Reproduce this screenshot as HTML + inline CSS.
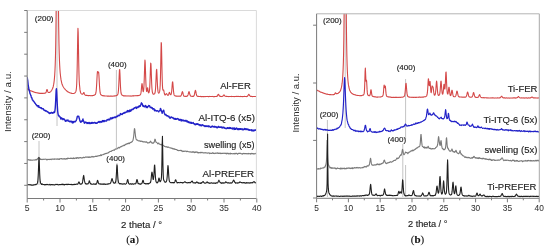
<!DOCTYPE html>
<html><head><meta charset="utf-8"><title>XRD patterns</title>
<style>html,body{margin:0;padding:0;background:#fff;}body{width:550px;height:250px;overflow:hidden;}svg{display:block;}</style>
</head><body>
<svg width="550" height="250" viewBox="0 0 550 250">
<rect width="550" height="250" fill="#fff"/>
<clipPath id="ca"><rect x="27.20" y="10.50" width="229.20" height="188.00"/></clipPath>
<line x1="57.00" y1="10.50" x2="57.00" y2="126.00" stroke="#c4c4c4" stroke-width="1"/>
<line x1="116.40" y1="70.00" x2="116.40" y2="148.00" stroke="#c4c4c4" stroke-width="1"/>
<line x1="39.00" y1="141.00" x2="39.00" y2="185.00" stroke="#c4c4c4" stroke-width="1"/>
<line x1="117.00" y1="163.00" x2="117.00" y2="184.00" stroke="#c4c4c4" stroke-width="1"/>
<g clip-path="url(#ca)">
<polyline fill="none" stroke="#7a7a7a" stroke-width="1.1" stroke-linejoin="round"  points="27.20,160.04 27.45,159.85 27.70,159.90 27.95,160.06 28.20,159.87 28.45,159.68 28.70,159.60 28.95,159.87 29.20,159.90 29.45,159.85 29.70,160.17 29.95,160.32 30.20,160.40 30.45,160.19 30.70,159.78 30.95,159.98 31.20,160.20 31.45,160.21 31.70,160.17 31.95,160.18 32.20,160.29 32.45,160.21 32.70,160.14 32.95,160.08 33.20,160.02 33.45,159.98 33.70,160.08 33.95,159.95 34.20,160.05 34.45,160.10 34.70,159.97 34.95,159.95 35.20,159.74 35.45,160.06 35.70,160.02 35.95,159.48 36.20,159.38 36.45,159.47 36.70,159.84 36.95,159.79 37.20,159.40 37.45,158.93 37.70,158.47 37.95,158.30 38.20,158.12 38.45,157.63 38.70,157.40 38.95,157.75 39.20,157.84 39.45,158.18 39.70,158.64 39.95,158.54 40.20,158.85 40.45,159.40 40.70,159.29 40.95,159.01 41.20,159.31 41.45,159.56 41.70,159.47 41.95,159.64 42.20,159.40 42.45,159.31 42.70,159.36 42.95,159.23 43.20,159.25 43.45,159.26 43.70,159.45 43.95,159.47 44.20,159.28 44.45,159.22 44.70,159.30 44.95,159.20 45.20,159.07 45.45,159.20 45.70,159.19 45.95,159.18 46.20,159.18 46.45,159.51 46.70,159.81 46.95,159.57 47.20,159.35 47.45,159.63 47.70,159.68 47.95,159.33 48.20,159.33 48.45,159.39 48.70,159.56 48.95,159.51 49.20,159.62 49.45,159.48 49.70,159.27 49.95,159.25 50.20,159.42 50.45,159.51 50.70,159.21 50.95,159.40 51.20,159.60 51.45,159.27 51.70,159.02 51.95,158.97 52.20,159.03 52.45,159.23 52.70,159.15 52.95,159.05 53.20,159.03 53.45,159.02 53.70,159.15 53.95,159.50 54.20,159.11 54.45,158.85 54.70,159.07 54.95,159.16 55.20,159.07 55.45,158.96 55.70,158.94 55.95,159.07 56.20,159.24 56.45,159.09 56.70,159.13 56.95,159.11 57.20,158.80 57.45,158.93 57.70,159.20 57.95,159.08 58.20,159.18 58.45,159.39 58.70,159.06 58.95,158.74 59.20,159.14 59.45,159.48 59.70,159.11 59.95,158.70 60.20,158.71 60.45,158.80 60.70,158.64 60.95,158.71 61.20,158.74 61.45,158.54 61.70,158.87 61.95,158.94 62.20,158.77 62.45,158.96 62.70,159.09 62.95,158.92 63.20,158.79 63.45,158.70 63.70,158.96 63.95,159.17 64.20,158.72 64.45,158.60 64.70,158.87 64.95,158.94 65.20,159.10 65.45,159.22 65.70,158.84 65.95,158.60 66.20,158.48 66.45,158.52 66.70,158.73 66.95,159.09 67.20,159.07 67.45,158.32 67.70,158.18 67.95,158.51 68.20,158.41 68.45,158.25 68.70,158.37 68.95,158.55 69.20,158.57 69.45,158.36 69.70,158.50 69.95,158.54 70.20,158.32 70.45,158.17 70.70,158.11 70.95,158.41 71.20,158.26 71.45,158.13 71.70,158.48 71.95,158.41 72.20,158.32 72.45,158.19 72.70,158.34 72.95,158.67 73.20,158.48 73.45,158.02 73.70,157.80 73.95,158.21 74.20,158.62 74.45,158.50 74.70,158.41 74.95,158.25 75.20,158.01 75.45,158.09 75.70,158.17 75.95,157.91 76.20,157.97 76.45,158.40 76.70,158.06 76.95,157.62 77.20,157.84 77.45,157.93 77.70,157.49 77.95,157.70 78.20,158.07 78.45,157.86 78.70,158.14 78.95,158.22 79.20,157.76 79.45,157.74 79.70,157.67 79.95,157.52 80.20,157.72 80.45,157.74 80.70,157.59 80.95,157.91 81.20,158.10 81.45,157.94 81.70,157.87 81.95,157.80 82.20,157.92 82.45,157.83 82.70,157.87 82.95,157.70 83.20,157.35 83.45,157.27 83.70,157.23 83.95,157.51 84.20,157.77 84.45,157.56 84.70,157.32 84.95,157.35 85.20,157.21 85.45,157.06 85.70,157.17 85.95,157.06 86.20,157.05 86.45,157.30 86.70,157.16 86.95,156.98 87.20,156.85 87.45,157.28 87.70,157.26 87.95,157.20 88.20,157.48 88.45,157.16 88.70,156.87 88.95,157.06 89.20,157.49 89.45,157.17 89.70,156.83 89.95,157.12 90.20,157.19 90.45,157.32 90.70,157.15 90.95,156.90 91.20,156.77 91.45,156.98 91.70,157.04 91.95,156.35 92.20,156.41 92.45,156.71 92.70,157.00 92.95,156.95 93.20,156.62 93.45,156.74 93.70,156.97 93.95,156.84 94.20,156.73 94.45,156.79 94.70,156.56 94.95,156.47 95.20,156.47 95.45,156.27 95.70,156.40 95.95,156.28 96.20,156.22 96.45,156.54 96.70,156.29 96.95,155.97 97.20,155.90 97.45,156.04 97.70,156.15 97.95,156.07 98.20,156.06 98.45,155.87 98.70,155.71 98.95,155.50 99.20,155.53 99.45,155.75 99.70,155.52 99.95,155.62 100.20,155.72 100.45,155.02 100.70,154.83 100.95,154.96 101.20,155.04 101.45,155.57 101.70,155.24 101.95,154.78 102.20,154.73 102.45,154.69 102.70,154.75 102.95,154.81 103.20,154.48 103.45,154.44 103.70,154.36 103.95,154.08 104.20,154.32 104.45,154.30 104.70,153.89 104.95,153.59 105.20,153.58 105.45,153.60 105.70,153.77 105.95,153.49 106.20,153.28 106.45,153.47 106.70,153.38 106.95,153.25 107.20,153.29 107.45,153.19 107.70,152.98 107.95,152.89 108.20,152.93 108.45,152.44 108.70,152.25 108.95,152.40 109.20,152.05 109.45,151.83 109.70,151.48 109.95,151.46 110.20,151.54 110.45,151.56 110.70,151.33 110.95,151.37 111.20,151.53 111.45,151.16 111.70,150.89 111.95,150.70 112.20,150.52 112.45,150.45 112.70,150.52 112.95,150.47 113.20,150.13 113.45,150.01 113.70,149.98 113.95,149.94 114.20,150.26 114.45,150.22 114.70,149.77 114.95,149.31 115.20,149.02 115.45,148.89 115.70,149.10 115.95,149.13 116.20,148.90 116.45,148.80 116.70,148.69 116.95,148.88 117.20,148.64 117.45,148.25 117.70,148.11 117.95,148.18 118.20,148.02 118.45,147.59 118.70,147.41 118.95,147.25 119.20,147.42 119.45,147.92 119.70,147.57 119.95,147.20 120.20,147.27 120.45,146.83 120.70,146.63 120.95,146.64 121.20,146.46 121.45,146.67 121.70,146.36 121.95,146.00 122.20,146.23 122.45,145.96 122.70,145.81 122.95,145.91 123.20,145.79 123.45,145.60 123.70,145.56 123.95,145.06 124.20,145.06 124.45,145.61 124.70,145.41 124.95,145.09 125.20,144.62 125.45,144.35 125.70,144.35 125.95,144.18 126.20,144.37 126.45,144.24 126.70,143.98 126.95,143.71 127.20,143.61 127.45,143.83 127.70,143.65 127.95,143.42 128.20,143.73 128.45,143.55 128.70,143.00 128.95,142.96 129.20,143.21 129.45,143.56 129.70,143.32 129.95,142.77 130.20,142.51 130.45,142.64 130.70,142.41 130.95,142.31 131.20,142.51 131.45,142.11 131.70,141.80 131.95,141.70 132.20,141.66 132.45,141.16 132.70,140.78 132.95,140.38 133.20,139.23 133.45,137.97 133.70,136.12 133.95,133.47 134.20,130.59 134.45,128.61 134.70,128.82 134.95,130.87 135.20,133.23 135.45,135.56 135.70,137.31 135.95,138.44 136.20,139.37 136.45,139.66 136.70,139.69 136.95,139.99 137.20,140.23 137.45,140.17 137.70,140.38 137.95,140.59 138.20,140.77 138.45,140.88 138.70,140.74 138.95,140.82 139.20,140.89 139.45,140.82 139.70,140.83 139.95,141.10 140.20,141.32 140.45,141.45 140.70,141.13 140.95,140.92 141.20,141.17 141.45,141.30 141.70,141.34 141.95,141.28 142.20,141.52 142.45,141.67 142.70,141.41 142.95,141.63 143.20,142.01 143.45,141.76 143.70,141.77 143.95,141.79 144.20,141.88 144.45,142.00 144.70,141.74 144.95,141.76 145.20,141.84 145.45,142.01 145.70,142.24 145.95,142.30 146.20,142.27 146.45,141.78 146.70,141.96 146.95,142.31 147.20,142.42 147.45,142.97 147.70,143.05 147.95,142.90 148.20,142.84 148.45,142.89 148.70,142.82 148.95,142.73 149.20,142.59 149.45,142.70 149.70,142.54 149.95,142.07 150.20,141.58 150.45,141.18 150.70,141.32 150.95,141.82 151.20,142.46 151.45,142.80 151.70,142.80 151.95,142.76 152.20,143.15 152.45,143.23 152.70,142.90 152.95,143.14 153.20,143.30 153.45,143.06 153.70,142.65 153.95,142.60 154.20,142.13 154.45,141.02 154.70,140.02 154.95,139.17 155.20,139.23 155.45,140.33 155.70,141.48 155.95,142.06 156.20,142.24 156.45,142.27 156.70,142.51 156.95,142.56 157.20,142.86 157.45,143.39 157.70,143.81 157.95,143.88 158.20,143.46 158.45,143.29 158.70,142.95 158.95,143.10 159.20,143.72 159.45,144.06 159.70,144.29 159.95,144.33 160.20,144.35 160.45,144.44 160.70,144.71 160.95,144.52 161.20,144.30 161.45,144.33 161.70,144.72 161.95,145.22 162.20,145.22 162.45,144.98 162.70,145.04 162.95,145.34 163.20,145.48 163.45,145.64 163.70,145.86 163.95,145.98 164.20,146.18 164.45,146.43 164.70,146.40 164.95,146.50 165.20,146.55 165.45,146.76 165.70,146.84 165.95,146.82 166.20,146.86 166.45,146.65 166.70,146.91 166.95,147.04 167.20,147.06 167.45,147.35 167.70,147.05 167.95,146.90 168.20,147.13 168.45,147.21 168.70,147.17 168.95,147.47 169.20,147.68 169.45,147.68 169.70,147.71 169.95,147.76 170.20,147.78 170.45,147.81 170.70,148.09 170.95,148.18 171.20,148.09 171.45,147.99 171.70,148.16 171.95,148.46 172.20,148.47 172.45,148.37 172.70,148.57 172.95,149.15 173.20,149.09 173.45,148.84 173.70,149.02 173.95,148.64 174.20,148.68 174.45,149.04 174.70,149.31 174.95,149.46 175.20,149.19 175.45,149.26 175.70,149.47 175.95,149.48 176.20,149.51 176.45,149.45 176.70,149.49 176.95,149.89 177.20,150.30 177.45,150.35 177.70,150.15 177.95,150.29 178.20,150.47 178.45,150.61 178.70,150.69 178.95,150.47 179.20,150.41 179.45,150.52 179.70,150.59 179.95,150.66 180.20,150.54 180.45,150.22 180.70,150.28 180.95,150.33 181.20,150.48 181.45,150.84 181.70,150.61 181.95,150.76 182.20,151.19 182.45,151.14 182.70,151.30 182.95,151.62 183.20,151.21 183.45,151.12 183.70,151.42 183.95,151.36 184.20,151.48 184.45,151.34 184.70,151.15 184.95,151.17 185.20,151.17 185.45,151.30 185.70,151.21 185.95,151.09 186.20,151.42 186.45,151.59 186.70,151.58 186.95,151.32 187.20,151.16 187.45,151.39 187.70,151.53 187.95,151.55 188.20,151.71 188.45,151.81 188.70,151.69 188.95,151.72 189.20,151.85 189.45,151.79 189.70,151.88 189.95,152.04 190.20,151.91 190.45,151.86 190.70,151.94 190.95,152.11 191.20,152.20 191.45,152.12 191.70,152.13 191.95,152.11 192.20,152.19 192.45,152.18 192.70,151.69 192.95,151.92 193.20,152.28 193.45,151.91 193.70,151.88 193.95,151.95 194.20,152.32 194.45,152.56 194.70,152.01 194.95,152.04 195.20,152.24 195.45,152.47 195.70,152.39 195.95,151.76 196.20,151.96 196.45,152.27 196.70,152.22 196.95,151.96 197.20,152.11 197.45,152.72 197.70,152.38 197.95,152.32 198.20,152.55 198.45,152.75 198.70,152.93 198.95,152.55 199.20,152.68 199.45,152.81 199.70,152.56 199.95,152.61 200.20,152.64 200.45,152.26 200.70,152.67 200.95,152.91 201.20,152.51 201.45,152.63 201.70,152.49 201.95,152.24 202.20,152.42 202.45,152.56 202.70,152.66 202.95,152.93 203.20,152.86 203.45,152.77 203.70,152.95 203.95,152.72 204.20,152.68 204.45,152.71 204.70,152.85 204.95,153.08 205.20,152.93 205.45,152.67 205.70,152.69 205.95,152.80 206.20,152.90 206.45,153.01 206.70,152.79 206.95,152.96 207.20,153.22 207.45,152.99 207.70,153.07 207.95,153.13 208.20,152.91 208.45,152.99 208.70,152.94 208.95,152.86 209.20,152.97 209.45,153.28 209.70,153.56 209.95,153.29 210.20,153.31 210.45,153.35 210.70,153.17 210.95,153.31 211.20,153.31 211.45,153.55 211.70,153.55 211.95,152.99 212.20,153.16 212.45,153.29 212.70,153.04 212.95,152.65 213.20,152.85 213.45,153.45 213.70,153.42 213.95,153.45 214.20,153.60 214.45,153.44 214.70,153.33 214.95,153.23 215.20,153.03 215.45,153.32 215.70,153.44 215.95,153.07 216.20,153.07 216.45,153.26 216.70,153.08 216.95,153.18 217.20,153.25 217.45,152.94 217.70,152.84 217.95,153.36 218.20,153.30 218.45,153.07 218.70,153.40 218.95,153.47 219.20,153.19 219.45,153.05 219.70,153.27 219.95,153.44 220.20,153.33 220.45,153.03 220.70,153.29 220.95,153.65 221.20,153.55 221.45,153.29 221.70,153.30 221.95,153.42 222.20,153.49 222.45,153.28 222.70,153.18 222.95,153.35 223.20,153.17 223.45,153.23 223.70,153.41 223.95,153.32 224.20,153.38 224.45,153.23 224.70,153.16 224.95,153.46 225.20,153.51 225.45,153.62 225.70,153.39 225.95,153.00 226.20,153.23 226.45,153.54 226.70,153.83 226.95,153.86 227.20,153.40 227.45,153.44 227.70,153.45 227.95,153.10 228.20,153.64 228.45,153.92 228.70,153.64 228.95,153.68 229.20,153.85 229.45,153.81 229.70,153.73 229.95,153.53 230.20,153.13 230.45,153.51 230.70,153.96 230.95,153.82 231.20,153.63 231.45,153.58 231.70,153.44 231.95,153.65 232.20,153.87 232.45,153.71 232.70,153.67 232.95,153.75 233.20,153.78 233.45,153.73 233.70,153.48 233.95,153.44 234.20,153.97 234.45,153.81 234.70,153.45 234.95,153.67 235.20,153.85 235.45,153.81 235.70,153.41 235.95,153.39 236.20,153.46 236.45,153.26 236.70,153.53 236.95,153.62 237.20,153.66 237.45,154.20 237.70,154.20 237.95,153.82 238.20,153.57 238.45,153.36 238.70,153.33 238.95,153.35 239.20,153.35 239.45,153.33 239.70,153.47 239.95,153.42 240.20,153.24 240.45,153.19 240.70,153.48 240.95,153.70 241.20,153.80 241.45,153.95 241.70,153.74 241.95,153.69 242.20,153.52 242.45,153.77 242.70,154.18 242.95,153.80 243.20,153.44 243.45,153.53 243.70,153.42 243.95,153.25 244.20,153.66 244.45,153.79 244.70,153.60 244.95,153.74 245.20,153.66 245.45,153.56 245.70,153.64 245.95,153.47 246.20,153.62 246.45,153.60 246.70,153.83 246.95,153.90 247.20,153.91 247.45,153.84 247.70,153.62 247.95,153.61 248.20,153.31 248.45,153.53 248.70,153.84 248.95,153.62 249.20,153.70 249.45,153.78 249.70,153.62 249.95,153.81 250.20,153.88 250.45,153.54 250.70,153.71 250.95,154.08 251.20,153.76 251.45,153.52 251.70,153.32 251.95,153.27 252.20,153.62 252.45,153.79 252.70,153.53 252.95,153.50 253.20,153.92 253.45,153.96 253.70,153.63 253.95,153.89 254.20,154.06 254.45,153.86 254.70,153.69 254.95,153.45 255.20,153.36 255.45,153.53 255.70,153.68 255.95,153.82 256.20,153.94"/>
<polyline fill="none" stroke="#202020" stroke-width="1.1" stroke-linejoin="round"  points="27.20,184.99 27.45,185.02 27.70,184.86 27.95,184.55 28.20,184.61 28.45,184.77 28.70,184.75 28.95,184.83 29.20,184.75 29.45,184.64 29.70,184.79 29.95,184.94 30.20,184.86 30.45,184.91 30.70,184.96 30.95,184.76 31.20,184.79 31.45,185.16 31.70,185.06 31.95,184.96 32.20,185.22 32.45,185.25 32.70,184.96 32.95,185.02 33.20,185.12 33.45,184.81 33.70,184.75 33.95,184.84 34.20,184.85 34.45,184.73 34.70,184.85 34.95,184.75 35.20,184.41 35.45,184.55 35.70,184.71 35.95,184.67 36.20,184.35 36.45,184.23 36.70,184.27 36.95,184.14 37.20,183.61 37.45,182.89 37.70,181.99 37.95,179.69 38.20,175.73 38.45,169.92 38.70,162.59 38.95,157.61 39.20,159.99 39.45,167.15 39.70,174.05 39.95,178.62 40.20,181.20 40.45,182.77 40.70,183.36 40.95,183.51 41.20,183.94 41.45,184.40 41.70,184.28 41.95,183.84 42.20,183.88 42.45,184.14 42.70,184.36 42.95,184.60 43.20,184.63 43.45,184.49 43.70,184.55 43.95,184.53 44.20,184.52 44.45,184.57 44.70,184.93 44.95,185.13 45.20,184.69 45.45,184.46 45.70,184.52 45.95,184.44 46.20,184.40 46.45,184.52 46.70,184.73 46.95,184.77 47.20,184.56 47.45,184.44 47.70,184.39 47.95,184.55 48.20,184.68 48.45,184.83 48.70,184.77 48.95,184.76 49.20,184.87 49.45,184.74 49.70,184.45 49.95,184.28 50.20,184.63 50.45,184.97 50.70,184.90 50.95,184.82 51.20,184.74 51.45,184.59 51.70,184.55 51.95,184.72 52.20,184.85 52.45,184.69 52.70,184.60 52.95,184.70 53.20,184.78 53.45,184.60 53.70,184.78 53.95,184.91 54.20,184.69 54.45,184.84 54.70,184.97 54.95,184.77 55.20,184.70 55.45,184.57 55.70,184.42 55.95,184.27 56.20,184.50 56.45,184.54 56.70,184.47 56.95,184.60 57.20,184.39 57.45,184.47 57.70,184.62 57.95,184.72 58.20,184.91 58.45,184.87 58.70,184.76 58.95,184.63 59.20,184.61 59.45,184.70 59.70,184.54 59.95,184.51 60.20,184.56 60.45,184.59 60.70,184.65 60.95,184.56 61.20,184.41 61.45,184.57 61.70,184.44 61.95,184.27 62.20,184.68 62.45,184.41 62.70,184.12 62.95,184.55 63.20,184.43 63.45,184.67 63.70,184.54 63.95,184.39 64.20,184.92 64.45,184.85 64.70,184.62 64.95,184.55 65.20,184.46 65.45,184.51 65.70,184.48 65.95,184.34 66.20,184.61 66.45,184.50 66.70,184.32 66.95,184.48 67.20,184.36 67.45,184.48 67.70,184.69 67.95,184.35 68.20,184.30 68.45,184.39 68.70,184.31 68.95,184.41 69.20,184.40 69.45,184.51 69.70,184.51 69.95,184.51 70.20,184.59 70.45,184.57 70.70,184.50 70.95,184.33 71.20,184.25 71.45,184.38 71.70,184.64 71.95,184.84 72.20,184.88 72.45,184.64 72.70,184.44 72.95,184.45 73.20,184.47 73.45,184.61 73.70,184.73 73.95,184.43 74.20,184.22 74.45,184.49 74.70,184.61 74.95,184.40 75.20,184.51 75.45,184.48 75.70,184.29 75.95,184.27 76.20,184.05 76.45,184.20 76.70,184.29 76.95,184.09 77.20,184.12 77.45,184.25 77.70,184.25 77.95,183.97 78.20,183.40 78.45,182.82 78.70,182.21 78.95,181.87 79.20,182.26 79.45,182.78 79.70,183.59 79.95,184.07 80.20,184.10 80.45,184.13 80.70,184.04 80.95,184.12 81.20,184.23 81.45,183.87 81.70,183.74 81.95,183.76 82.20,183.35 82.45,182.62 82.70,181.13 82.95,179.17 83.20,177.49 83.45,176.00 83.70,175.40 83.95,176.86 84.20,179.06 84.45,180.63 84.70,181.69 84.95,182.53 85.20,183.30 85.45,183.73 85.70,183.80 85.95,183.93 86.20,184.09 86.45,183.82 86.70,183.74 86.95,183.92 87.20,183.80 87.45,183.83 87.70,183.95 87.95,183.90 88.20,183.54 88.45,183.14 88.70,182.95 88.95,182.07 89.20,180.88 89.45,180.84 89.70,181.59 89.95,182.42 90.20,182.97 90.45,183.57 90.70,183.92 90.95,183.79 91.20,183.88 91.45,184.04 91.70,184.22 91.95,184.33 92.20,184.24 92.45,184.29 92.70,184.30 92.95,184.30 93.20,184.11 93.45,183.79 93.70,184.07 93.95,184.09 94.20,183.95 94.45,184.10 94.70,184.07 94.95,184.02 95.20,184.24 95.45,183.96 95.70,183.86 95.95,184.42 96.20,184.18 96.45,183.61 96.70,183.19 96.95,182.62 97.20,181.41 97.45,180.41 97.70,180.46 97.95,181.18 98.20,182.19 98.45,183.05 98.70,183.54 98.95,183.77 99.20,183.89 99.45,183.86 99.70,183.96 99.95,184.04 100.20,183.92 100.45,184.15 100.70,184.29 100.95,183.92 101.20,184.08 101.45,184.16 101.70,184.09 101.95,184.18 102.20,184.15 102.45,184.17 102.70,184.07 102.95,184.05 103.20,184.38 103.45,184.09 103.70,183.84 103.95,184.17 104.20,184.03 104.45,183.80 104.70,184.20 104.95,184.33 105.20,184.31 105.45,184.42 105.70,184.16 105.95,184.15 106.20,184.22 106.45,184.30 106.70,184.27 106.95,184.13 107.20,184.09 107.45,184.23 107.70,184.30 107.95,183.99 108.20,183.79 108.45,183.94 108.70,183.92 108.95,183.81 109.20,183.72 109.45,183.68 109.70,183.76 109.95,183.77 110.20,183.46 110.45,183.21 110.70,182.66 110.95,182.09 111.20,181.41 111.45,180.23 111.70,179.35 111.95,178.59 112.20,178.76 112.45,179.68 112.70,180.70 112.95,181.31 113.20,182.03 113.45,182.74 113.70,182.98 113.95,182.92 114.20,182.95 114.45,183.25 114.70,183.26 114.95,183.18 115.20,182.70 115.45,182.37 115.70,181.72 115.95,179.99 116.20,177.12 116.45,172.96 116.70,168.11 116.95,164.92 117.20,166.08 117.45,170.78 117.70,175.65 117.95,178.96 118.20,180.97 118.45,182.12 118.70,182.78 118.95,183.06 119.20,183.17 119.45,183.63 119.70,183.85 119.95,183.58 120.20,183.45 120.45,183.48 120.70,183.78 120.95,184.00 121.20,183.91 121.45,183.84 121.70,183.85 121.95,183.72 122.20,183.94 122.45,184.14 122.70,184.29 122.95,184.16 123.20,183.83 123.45,184.04 123.70,184.03 123.95,183.74 124.20,183.65 124.45,183.84 124.70,183.99 124.95,183.96 125.20,184.03 125.45,184.15 125.70,184.03 125.95,183.84 126.20,183.63 126.45,183.38 126.70,182.93 126.95,181.93 127.20,180.74 127.45,179.79 127.70,179.46 127.95,180.15 128.20,181.56 128.45,182.74 128.70,183.51 128.95,183.82 129.20,183.90 129.45,184.14 129.70,184.19 129.95,183.97 130.20,183.83 130.45,183.94 130.70,183.84 130.95,183.89 131.20,184.15 131.45,184.04 131.70,184.16 131.95,184.18 132.20,183.91 132.45,183.91 132.70,183.84 132.95,183.92 133.20,184.01 133.45,184.17 133.70,184.23 133.95,184.08 134.20,183.97 134.45,183.70 134.70,183.70 134.95,183.75 135.20,183.83 135.45,183.84 135.70,183.72 135.95,183.39 136.20,182.52 136.45,181.37 136.70,180.14 136.95,179.53 137.20,179.92 137.45,180.77 137.70,181.87 137.95,183.20 138.20,183.67 138.45,183.58 138.70,183.63 138.95,183.53 139.20,183.80 139.45,184.01 139.70,183.90 139.95,184.13 140.20,184.41 140.45,184.05 140.70,183.86 140.95,184.03 141.20,183.91 141.45,183.81 141.70,183.58 141.95,183.35 142.20,182.78 142.45,181.69 142.70,180.79 142.95,180.29 143.20,180.45 143.45,181.25 143.70,182.40 143.95,183.19 144.20,183.43 144.45,183.49 144.70,183.56 144.95,183.58 145.20,183.66 145.45,183.83 145.70,183.56 145.95,183.53 146.20,183.88 146.45,183.89 146.70,183.68 146.95,183.81 147.20,183.83 147.45,183.49 147.70,183.43 147.95,183.56 148.20,183.79 148.45,183.91 148.70,183.78 148.95,183.43 149.20,183.26 149.45,183.22 149.70,183.19 149.95,182.93 150.20,182.71 150.45,182.57 150.70,181.74 150.95,180.37 151.20,178.29 151.45,175.57 151.70,173.18 151.95,172.13 152.20,172.81 152.45,174.51 152.70,176.78 152.95,178.59 153.20,179.50 153.45,179.27 153.70,177.24 153.95,173.95 154.20,169.52 154.45,165.55 154.70,165.07 154.95,168.62 155.20,173.39 155.45,177.19 155.70,179.69 155.95,181.32 156.20,182.06 156.45,182.16 156.70,182.57 156.95,182.96 157.20,182.90 157.45,182.49 157.70,182.24 157.95,182.18 158.20,181.51 158.45,180.45 158.70,178.91 158.95,177.95 159.20,178.35 159.45,179.57 159.70,180.81 159.95,181.55 160.20,181.77 160.45,181.39 160.70,181.01 160.95,180.50 161.20,179.40 161.45,177.22 161.70,171.76 161.95,159.84 162.20,143.00 162.45,136.36 162.70,149.62 162.95,165.24 163.20,174.50 163.45,178.45 163.70,180.08 163.95,180.61 164.20,181.07 164.45,181.51 164.70,181.87 164.95,182.15 165.20,182.07 165.45,182.02 165.70,182.29 165.95,182.12 166.20,181.61 166.45,181.32 166.70,180.56 166.95,179.00 167.20,176.50 167.45,172.92 167.70,168.31 167.95,165.46 168.20,166.92 168.45,170.90 168.70,175.08 168.95,178.23 169.20,180.34 169.45,181.39 169.70,181.79 169.95,182.15 170.20,182.36 170.45,182.46 170.70,182.67 170.95,182.76 171.20,182.70 171.45,182.74 171.70,182.61 171.95,182.54 172.20,182.55 172.45,182.69 172.70,182.73 172.95,182.57 173.20,182.69 173.45,182.88 173.70,182.60 173.95,182.71 174.20,182.83 174.45,182.37 174.70,182.06 174.95,181.39 175.20,180.34 175.45,179.94 175.70,179.80 175.95,180.06 176.20,181.12 176.45,181.70 176.70,182.05 176.95,182.49 177.20,182.92 177.45,182.79 177.70,182.49 177.95,182.69 178.20,182.70 178.45,182.46 178.70,182.49 178.95,182.64 179.20,182.63 179.45,182.75 179.70,182.80 179.95,182.70 180.20,182.61 180.45,182.43 180.70,182.38 180.95,182.56 181.20,182.54 181.45,182.53 181.70,182.48 181.95,182.67 182.20,183.06 182.45,182.82 182.70,182.60 182.95,182.62 183.20,182.72 183.45,182.78 183.70,182.58 183.95,182.40 184.20,182.25 184.45,181.96 184.70,181.85 184.95,181.80 185.20,181.83 185.45,182.11 185.70,182.39 185.95,182.56 186.20,182.68 186.45,182.65 186.70,182.65 186.95,182.77 187.20,182.73 187.45,182.78 187.70,182.89 187.95,182.63 188.20,182.56 188.45,182.63 188.70,182.75 188.95,182.70 189.20,182.42 189.45,182.46 189.70,182.79 189.95,182.83 190.20,182.61 190.45,182.64 190.70,182.28 190.95,182.08 191.20,182.06 191.45,181.67 191.70,181.31 191.95,181.08 192.20,181.06 192.45,181.42 192.70,181.89 192.95,182.57 193.20,182.86 193.45,182.81 193.70,182.78 193.95,182.71 194.20,183.01 194.45,182.98 194.70,182.69 194.95,182.82 195.20,182.88 195.45,183.13 195.70,182.83 195.95,182.52 196.20,182.74 196.45,182.31 196.70,181.90 196.95,181.98 197.20,182.33 197.45,182.39 197.70,182.24 197.95,182.70 198.20,183.25 198.45,183.17 198.70,182.74 198.95,182.99 199.20,183.26 199.45,183.23 199.70,183.26 199.95,183.08 200.20,183.03 200.45,183.26 200.70,183.49 200.95,183.02 201.20,182.70 201.45,183.16 201.70,183.14 201.95,182.57 202.20,182.35 202.45,182.15 202.70,181.78 202.95,181.53 203.20,181.59 203.45,181.91 203.70,182.36 203.95,182.63 204.20,182.75 204.45,182.95 204.70,183.21 204.95,183.29 205.20,183.11 205.45,183.10 205.70,183.09 205.95,183.02 206.20,182.80 206.45,182.58 206.70,182.38 206.95,181.97 207.20,181.83 207.45,182.22 207.70,182.67 207.95,182.82 208.20,182.75 208.45,182.63 208.70,182.91 208.95,183.27 209.20,183.34 209.45,183.08 209.70,183.12 209.95,183.22 210.20,183.14 210.45,183.26 210.70,183.11 210.95,182.98 211.20,182.82 211.45,182.77 211.70,182.81 211.95,182.98 212.20,183.21 212.45,183.27 212.70,183.31 212.95,183.11 213.20,183.10 213.45,183.13 213.70,183.16 213.95,183.25 214.20,183.04 214.45,183.00 214.70,183.13 214.95,183.08 215.20,183.18 215.45,183.43 215.70,183.27 215.95,183.00 216.20,182.75 216.45,182.76 216.70,182.97 216.95,182.69 217.20,182.73 217.45,182.98 217.70,182.66 217.95,182.21 218.20,181.70 218.45,181.25 218.70,180.62 218.95,180.18 219.20,180.75 219.45,181.28 219.70,181.70 219.95,182.20 220.20,182.38 220.45,182.63 220.70,182.95 220.95,182.89 221.20,182.91 221.45,183.21 221.70,183.32 221.95,182.96 222.20,182.70 222.45,182.70 222.70,182.96 222.95,183.25 223.20,183.20 223.45,183.00 223.70,182.76 223.95,182.88 224.20,183.02 224.45,182.87 224.70,182.82 224.95,182.90 225.20,182.73 225.45,182.27 225.70,181.74 225.95,181.70 226.20,182.05 226.45,182.26 226.70,182.42 226.95,182.57 227.20,182.85 227.45,183.01 227.70,182.97 227.95,182.87 228.20,182.78 228.45,182.93 228.70,182.88 228.95,182.70 229.20,182.78 229.45,183.09 229.70,183.15 229.95,183.18 230.20,183.13 230.45,182.90 230.70,182.73 230.95,182.69 231.20,183.03 231.45,183.12 231.70,182.99 231.95,182.95 232.20,182.70 232.45,182.29 232.70,181.84 232.95,181.34 233.20,180.72 233.45,180.21 233.70,180.12 233.95,180.37 234.20,180.96 234.45,181.57 234.70,182.23 234.95,182.40 235.20,182.42 235.45,183.08 235.70,183.11 235.95,182.69 236.20,182.74 236.45,183.06 236.70,183.04 236.95,182.96 237.20,182.99 237.45,182.87 237.70,183.25 237.95,183.31 238.20,182.82 238.45,182.73 238.70,182.79 238.95,182.81 239.20,182.69 239.45,182.45 239.70,181.96 239.95,181.89 240.20,182.08 240.45,182.16 240.70,182.23 240.95,182.38 241.20,182.60 241.45,182.73 241.70,182.67 241.95,182.70 242.20,182.90 242.45,182.76 242.70,182.67 242.95,182.70 243.20,182.90 243.45,182.68 243.70,182.52 243.95,182.63 244.20,182.62 244.45,182.94 244.70,182.91 244.95,182.82 245.20,182.79 245.45,183.02 245.70,183.24 245.95,183.13 246.20,182.85 246.45,182.56 246.70,182.87 246.95,182.98 247.20,182.81 247.45,182.87 247.70,182.74 247.95,182.80 248.20,182.96 248.45,182.92 248.70,182.83 248.95,182.83 249.20,182.82 249.45,182.87 249.70,183.10 249.95,183.10 250.20,183.01 250.45,182.97 250.70,182.56 250.95,182.58 251.20,182.88 251.45,182.78 251.70,182.77 251.95,182.57 252.20,182.51 252.45,182.72 252.70,182.88 252.95,182.56 253.20,182.02 253.45,182.00 253.70,181.73 253.95,181.66 254.20,181.84 254.45,181.70 254.70,182.11 254.95,182.69 255.20,182.57 255.45,182.67 255.70,182.87 255.95,182.89 256.20,182.89"/>
<polyline fill="none" stroke="#d44848" stroke-width="1.1" stroke-linejoin="round"  points="27.20,88.63 27.45,88.82 27.70,88.98 27.95,89.09 28.20,89.26 28.45,89.43 28.70,89.63 28.95,89.94 29.20,90.08 29.45,90.15 29.70,90.38 29.95,90.61 30.20,90.70 30.45,90.72 30.70,90.81 30.95,91.00 31.20,91.02 31.45,91.05 31.70,91.11 31.95,91.16 32.20,91.26 32.45,91.42 32.70,91.54 32.95,91.67 33.20,91.84 33.45,91.91 33.70,91.85 33.95,91.93 34.20,92.16 34.45,92.29 34.70,92.30 34.95,92.36 35.20,92.45 35.45,92.47 35.70,92.63 35.95,92.67 36.20,92.65 36.45,92.79 36.70,92.80 36.95,92.79 37.20,92.87 37.45,92.92 37.70,92.88 37.95,92.92 38.20,93.11 38.45,93.05 38.70,93.07 38.95,93.20 39.20,93.15 39.45,93.29 39.70,93.41 39.95,93.26 40.20,93.24 40.45,93.35 40.70,93.34 40.95,93.36 41.20,93.37 41.45,93.38 41.70,93.47 41.95,93.40 42.20,93.33 42.45,93.34 42.70,93.34 42.95,93.30 43.20,93.25 43.45,93.30 43.70,93.38 43.95,93.44 44.20,93.30 44.45,93.17 44.70,93.26 44.95,93.16 45.20,93.05 45.45,93.06 45.70,92.97 45.95,92.64 46.20,91.90 46.45,90.93 46.70,89.97 46.95,89.50 47.20,89.69 47.45,90.38 47.70,91.32 47.95,92.01 48.20,92.36 48.45,92.46 48.70,92.50 48.95,92.49 49.20,92.48 49.45,92.45 49.70,92.27 49.95,92.13 50.20,91.95 50.45,91.77 50.70,91.57 50.95,91.30 51.20,90.95 51.45,90.62 51.70,90.23 51.95,89.68 52.20,89.28 52.45,88.79 52.70,88.17 52.95,87.59 53.20,86.64 53.45,85.40 53.70,84.15 53.95,82.62 54.20,80.62 54.45,78.09 54.70,74.94 54.95,70.78 55.20,65.05 55.45,57.25 55.70,46.21 55.95,29.71 56.20,4.31 56.45,-36.46 56.70,-102.54 56.95,-199.67 57.20,-289.31 57.45,-283.78 57.70,-185.40 57.95,-93.65 58.20,-33.42 58.45,3.83 58.70,27.10 58.95,42.39 59.20,52.82 59.45,60.20 59.70,65.65 59.95,69.73 60.20,72.94 60.45,75.29 60.70,77.36 60.95,79.16 61.20,80.55 61.45,81.72 61.70,82.81 61.95,83.74 62.20,84.56 62.45,85.21 62.70,85.71 62.95,86.19 63.20,86.60 63.45,86.98 63.70,87.45 63.95,87.85 64.20,88.20 64.45,88.55 64.70,88.79 64.95,89.08 65.20,89.38 65.45,89.68 65.70,89.96 65.95,90.21 66.20,90.39 66.45,90.59 66.70,90.98 66.95,91.20 67.20,91.25 67.45,91.51 67.70,91.85 67.95,91.93 68.20,91.98 68.45,92.14 68.70,92.17 68.95,92.36 69.20,92.56 69.45,92.63 69.70,92.68 69.95,92.80 70.20,92.91 70.45,92.96 70.70,93.01 70.95,93.03 71.20,93.25 71.45,93.36 71.70,93.37 71.95,93.46 72.20,93.45 72.45,93.43 72.70,93.49 72.95,93.50 73.20,93.44 73.45,93.43 73.70,93.46 73.95,93.44 74.20,93.32 74.45,93.14 74.70,92.90 74.95,92.79 75.20,92.67 75.45,92.26 75.70,91.77 75.95,91.13 76.20,90.02 76.45,88.01 76.70,84.18 76.95,77.50 77.20,66.79 77.45,52.34 77.70,37.25 77.95,28.36 78.20,32.51 78.45,46.24 78.70,61.24 78.95,73.00 79.20,80.56 79.45,84.46 79.70,86.93 79.95,89.41 80.20,91.09 80.45,92.02 80.70,92.77 80.95,93.31 81.20,93.59 81.45,93.83 81.70,93.99 81.95,94.05 82.20,94.20 82.45,94.28 82.70,94.14 82.95,93.98 83.20,93.59 83.45,92.98 83.70,92.50 83.95,92.56 84.20,93.18 84.45,93.89 84.70,94.51 84.95,94.86 85.20,95.05 85.45,95.21 85.70,95.37 85.95,95.33 86.20,95.31 86.45,95.42 86.70,95.41 86.95,95.37 87.20,95.38 87.45,95.53 87.70,95.58 87.95,95.57 88.20,95.59 88.45,95.67 88.70,95.71 88.95,95.54 89.20,95.53 89.45,95.56 89.70,95.43 89.95,95.53 90.20,95.79 90.45,95.82 90.70,95.67 90.95,95.60 91.20,95.72 91.45,95.77 91.70,95.69 91.95,95.66 92.20,95.64 92.45,95.66 92.70,95.66 92.95,95.59 93.20,95.45 93.45,95.41 93.70,95.37 93.95,95.33 94.20,95.20 94.45,95.02 94.70,94.95 94.95,94.69 95.20,94.53 95.45,94.31 95.70,93.57 95.95,92.47 96.20,90.71 96.45,87.66 96.70,83.63 96.95,78.89 97.20,74.27 97.45,71.66 97.70,71.66 97.95,72.53 98.20,72.63 98.45,72.06 98.70,72.52 98.95,75.67 99.20,80.35 99.45,84.91 99.70,88.56 99.95,91.24 100.20,93.00 100.45,93.90 100.70,94.44 100.95,94.74 101.20,94.96 101.45,95.13 101.70,95.25 101.95,95.38 102.20,95.58 102.45,95.68 102.70,95.66 102.95,95.66 103.20,95.67 103.45,95.84 103.70,95.94 103.95,95.89 104.20,95.87 104.45,95.83 104.70,95.87 104.95,96.01 105.20,96.01 105.45,95.96 105.70,95.99 105.95,96.02 106.20,95.96 106.45,95.95 106.70,96.01 106.95,96.08 107.20,96.09 107.45,96.09 107.70,96.22 107.95,96.18 108.20,96.07 108.45,96.10 108.70,96.14 108.95,96.08 109.20,96.11 109.45,96.29 109.70,96.25 109.95,96.13 110.20,96.08 110.45,96.11 110.70,96.10 110.95,96.01 111.20,96.15 111.45,96.15 111.70,96.14 111.95,96.27 112.20,96.21 112.45,96.15 112.70,96.24 112.95,96.18 113.20,96.03 113.45,95.95 113.70,95.97 113.95,96.11 114.20,96.14 114.45,95.98 114.70,95.85 114.95,95.85 115.20,95.88 115.45,95.85 115.70,95.80 115.95,95.77 116.20,95.67 116.45,95.56 116.70,95.48 116.95,95.33 117.20,95.17 117.45,95.02 117.70,94.64 117.95,93.88 118.20,92.54 118.45,90.36 118.70,86.66 118.95,81.23 119.20,75.07 119.45,70.11 119.70,69.49 119.95,73.77 120.20,80.06 120.45,85.74 120.70,89.81 120.95,92.43 121.20,93.77 121.45,94.33 121.70,94.68 121.95,94.99 122.20,95.23 122.45,95.32 122.70,95.44 122.95,95.53 123.20,95.66 123.45,95.84 123.70,95.89 123.95,95.84 124.20,95.84 124.45,95.89 124.70,95.86 124.95,95.87 125.20,95.83 125.45,95.78 125.70,95.91 125.95,95.99 126.20,95.97 126.45,96.04 126.70,95.94 126.95,95.84 127.20,95.96 127.45,96.03 127.70,96.00 127.95,96.04 128.20,96.07 128.45,95.94 128.70,95.88 128.95,95.99 129.20,96.07 129.45,95.92 129.70,95.97 129.95,96.11 130.20,96.10 130.45,96.04 130.70,95.95 130.95,95.90 131.20,96.05 131.45,96.10 131.70,96.04 131.95,96.01 132.20,95.92 132.45,95.85 132.70,95.81 132.95,95.96 133.20,95.90 133.45,95.89 133.70,95.98 133.95,95.85 134.20,95.79 134.45,95.81 134.70,95.82 134.95,95.81 135.20,95.75 135.45,95.75 135.70,95.72 135.95,95.65 136.20,95.69 136.45,95.80 136.70,95.69 136.95,95.62 137.20,95.65 137.45,95.57 137.70,95.62 137.95,95.62 138.20,95.62 138.45,95.56 138.70,95.45 138.95,95.43 139.20,95.30 139.45,95.27 139.70,95.21 139.95,95.09 140.20,94.92 140.45,94.53 140.70,93.95 140.95,92.91 141.20,91.08 141.45,88.34 141.70,85.34 141.95,83.48 142.20,84.14 142.45,86.54 142.70,88.94 142.95,90.77 143.20,91.64 143.45,91.16 143.70,89.35 143.95,85.98 144.20,80.39 144.45,72.85 144.70,64.83 144.95,60.07 145.20,62.29 145.45,69.55 145.70,77.61 145.95,84.07 146.20,88.23 146.45,90.50 146.70,91.52 146.95,91.17 147.20,89.58 147.45,87.88 147.70,87.75 147.95,89.54 148.20,91.59 148.45,92.70 148.70,92.87 148.95,92.66 149.20,91.94 149.45,90.49 149.70,87.70 149.95,82.78 150.20,75.88 150.45,68.30 150.70,63.11 150.95,63.67 151.20,69.79 151.45,77.55 151.70,84.04 151.95,88.49 152.20,91.07 152.45,92.48 152.70,93.20 152.95,93.78 153.20,94.12 153.45,94.16 153.70,94.13 153.95,94.04 154.20,93.99 154.45,93.93 154.70,93.64 154.95,93.05 155.20,91.85 155.45,89.74 155.70,86.25 155.95,81.15 156.20,75.13 156.45,70.10 156.70,69.39 156.95,73.64 157.20,79.72 157.45,85.07 157.70,88.91 157.95,91.16 158.20,92.38 158.45,92.97 158.70,93.12 158.95,93.05 159.20,92.73 159.45,92.15 159.70,91.13 159.95,89.02 160.20,84.84 160.45,77.37 160.70,65.95 160.95,52.44 161.20,42.49 161.45,43.76 161.70,55.19 161.95,68.51 162.20,79.12 162.45,85.86 162.70,89.14 162.95,90.23 163.20,90.16 163.45,89.84 163.70,90.17 163.95,91.33 164.20,92.71 164.45,93.77 164.70,94.45 164.95,94.85 165.20,94.90 165.45,94.76 165.70,94.53 165.95,94.09 166.20,93.71 166.45,93.64 166.70,93.77 166.95,94.17 167.20,94.59 167.45,94.95 167.70,95.29 167.95,95.42 168.20,95.28 168.45,94.81 168.70,94.19 168.95,93.47 169.20,92.70 169.45,92.38 169.70,92.72 169.95,93.58 170.20,94.38 170.45,94.62 170.70,94.78 170.95,94.65 171.20,93.99 171.45,92.89 171.70,91.06 171.95,88.19 172.20,84.70 172.45,82.06 172.70,81.85 172.95,84.17 173.20,87.52 173.45,90.54 173.70,92.72 173.95,94.17 174.20,94.98 174.45,95.37 174.70,95.64 174.95,95.75 175.20,95.80 175.45,95.97 175.70,96.07 175.95,96.14 176.20,96.18 176.45,96.13 176.70,96.16 176.95,96.15 177.20,96.05 177.45,96.16 177.70,96.26 177.95,96.26 178.20,96.18 178.45,96.15 178.70,96.21 178.95,96.19 179.20,96.09 179.45,96.12 179.70,96.29 179.95,96.31 180.20,96.20 180.45,96.13 180.70,96.09 180.95,95.72 181.20,95.25 181.45,94.76 181.70,93.86 181.95,92.85 182.20,92.02 182.45,91.70 182.70,92.19 182.95,93.22 183.20,94.22 183.45,95.03 183.70,95.68 183.95,96.13 184.20,96.24 184.45,96.21 184.70,96.28 184.95,96.38 185.20,96.38 185.45,96.40 185.70,96.35 185.95,96.25 186.20,96.29 186.45,96.34 186.70,96.39 186.95,96.21 187.20,96.02 187.45,95.96 187.70,95.64 187.95,94.96 188.20,94.20 188.45,93.25 188.70,92.21 188.95,91.62 189.20,91.89 189.45,92.78 189.70,93.87 189.95,94.79 190.20,95.37 190.45,95.86 190.70,96.09 190.95,96.23 191.20,96.34 191.45,96.28 191.70,96.29 191.95,96.33 192.20,96.38 192.45,96.36 192.70,96.27 192.95,96.35 193.20,96.47 193.45,96.45 193.70,96.19 193.95,95.80 194.20,95.36 194.45,94.47 194.70,93.12 194.95,91.78 195.20,90.76 195.45,90.40 195.70,90.97 195.95,92.21 196.20,93.68 196.45,94.80 196.70,95.49 196.95,95.97 197.20,96.23 197.45,96.31 197.70,96.37 197.95,96.37 198.20,96.35 198.45,96.36 198.70,96.46 198.95,96.53 199.20,96.44 199.45,96.43 199.70,96.47 199.95,96.53 200.20,96.46 200.45,96.37 200.70,96.44 200.95,96.64 201.20,96.72 201.45,96.58 201.70,96.56 201.95,96.69 202.20,96.64 202.45,96.50 202.70,96.58 202.95,96.63 203.20,96.60 203.45,96.55 203.70,96.62 203.95,96.75 204.20,96.67 204.45,96.61 204.70,96.47 204.95,96.47 205.20,96.57 205.45,96.56 205.70,96.61 205.95,96.56 206.20,96.43 206.45,96.47 206.70,96.52 206.95,96.48 207.20,96.49 207.45,96.49 207.70,96.40 207.95,96.48 208.20,96.63 208.45,96.62 208.70,96.72 208.95,96.66 209.20,96.44 209.45,96.39 209.70,96.43 209.95,96.45 210.20,96.52 210.45,96.43 210.70,96.45 210.95,96.48 211.20,96.47 211.45,96.55 211.70,96.52 211.95,96.52 212.20,96.50 212.45,96.47 212.70,96.41 212.95,96.44 213.20,96.64 213.45,96.75 213.70,96.72 213.95,96.64 214.20,96.53 214.45,96.57 214.70,96.60 214.95,96.51 215.20,96.49 215.45,96.49 215.70,96.48 215.95,96.45 216.20,96.40 216.45,96.36 216.70,96.50 216.95,96.41 217.20,96.07 217.45,95.78 217.70,95.39 217.95,94.80 218.20,94.35 218.45,94.35 218.70,94.62 218.95,95.04 219.20,95.60 219.45,95.95 219.70,96.13 219.95,96.29 220.20,96.45 220.45,96.41 220.70,96.30 220.95,96.39 221.20,96.47 221.45,96.54 221.70,96.58 221.95,96.44 222.20,96.38 222.45,96.40 222.70,96.22 222.95,96.09 223.20,95.80 223.45,95.32 223.70,95.04 223.95,94.90 224.20,94.96 224.45,95.34 224.70,95.74 224.95,96.11 225.20,96.30 225.45,96.25 225.70,96.29 225.95,96.36 226.20,96.36 226.45,96.44 226.70,96.48 226.95,96.35 227.20,96.43 227.45,96.54 227.70,96.52 227.95,96.54 228.20,96.56 228.45,96.55 228.70,96.59 228.95,96.61 229.20,96.56 229.45,96.56 229.70,96.46 229.95,96.43 230.20,96.50 230.45,96.52 230.70,96.46 230.95,96.54 231.20,96.62 231.45,96.46 231.70,96.36 231.95,96.41 232.20,96.50 232.45,96.47 232.70,96.48 232.95,96.49 233.20,96.51 233.45,96.51 233.70,96.48 233.95,96.57 234.20,96.72 234.45,96.61 234.70,96.44 234.95,96.44 235.20,96.51 235.45,96.50 235.70,96.42 235.95,96.49 236.20,96.46 236.45,96.41 236.70,96.43 236.95,96.37 237.20,96.31 237.45,96.41 237.70,96.50 237.95,96.51 238.20,96.40 238.45,96.39 238.70,96.53 238.95,96.59 239.20,96.54 239.45,96.46 239.70,96.50 239.95,96.51 240.20,96.41 240.45,96.40 240.70,96.54 240.95,96.60 241.20,96.58 241.45,96.54 241.70,96.53 241.95,96.52 242.20,96.46 242.45,96.63 242.70,96.68 242.95,96.51 243.20,96.46 243.45,96.51 243.70,96.58 243.95,96.53 244.20,96.37 244.45,96.37 244.70,96.47 244.95,96.49 245.20,96.56 245.45,96.57 245.70,96.53 245.95,96.45 246.20,96.44 246.45,96.61 246.70,96.59 246.95,96.45 247.20,96.34 247.45,96.29 247.70,96.00 247.95,95.52 248.20,95.13 248.45,94.70 248.70,94.35 248.95,94.36 249.20,94.72 249.45,95.20 249.70,95.66 249.95,95.93 250.20,96.15 250.45,96.38 250.70,96.39 250.95,96.35 251.20,96.46 251.45,96.43 251.70,96.41 251.95,96.41 252.20,96.47 252.45,96.66 252.70,96.72 252.95,96.58 253.20,96.51 253.45,96.53 253.70,96.49 253.95,96.57 254.20,96.49 254.45,96.47 254.70,96.54 254.95,96.56 255.20,96.57 255.45,96.46 255.70,96.46 255.95,96.54 256.20,96.53"/>
<polyline fill="none" stroke="#2222c8" stroke-width="1.4" stroke-linejoin="round"  points="27.20,77.13 27.45,79.01 27.70,80.30 27.95,82.73 28.20,85.20 28.45,86.56 28.70,87.96 28.95,89.79 29.20,90.67 29.45,91.08 29.70,92.05 29.95,93.49 30.20,93.87 30.45,94.55 30.70,95.43 30.95,95.46 31.20,96.67 31.45,97.63 31.70,97.58 31.95,98.18 32.20,99.25 32.45,100.06 32.70,100.05 32.95,100.20 33.20,100.90 33.45,100.98 33.70,101.25 33.95,101.80 34.20,101.92 34.45,102.17 34.70,102.71 34.95,103.23 35.20,103.31 35.45,103.41 35.70,104.11 35.95,104.51 36.20,104.67 36.45,105.17 36.70,105.32 36.95,105.84 37.20,105.67 37.45,105.48 37.70,105.85 37.95,106.37 38.20,107.12 38.45,106.21 38.70,105.62 38.95,106.53 39.20,107.19 39.45,107.38 39.70,107.31 39.95,107.39 40.20,107.77 40.45,107.78 40.70,108.06 40.95,107.61 41.20,107.67 41.45,108.18 41.70,108.44 41.95,108.83 42.20,108.46 42.45,108.77 42.70,108.91 42.95,108.69 43.20,108.64 43.45,109.03 43.70,109.76 43.95,110.20 44.20,110.16 44.45,110.31 44.70,110.50 44.95,110.31 45.20,110.61 45.45,111.08 45.70,110.96 45.95,110.73 46.20,110.92 46.45,111.15 46.70,111.07 46.95,111.47 47.20,111.74 47.45,111.72 47.70,111.73 47.95,111.83 48.20,112.31 48.45,112.22 48.70,112.81 48.95,113.16 49.20,113.22 49.45,113.51 49.70,112.95 49.95,112.69 50.20,113.05 50.45,113.21 50.70,113.13 50.95,113.06 51.20,112.56 51.45,112.60 51.70,112.50 51.95,112.68 52.20,113.11 52.45,112.80 52.70,112.93 52.95,113.18 53.20,112.79 53.45,112.15 53.70,112.15 53.95,111.92 54.20,111.80 54.45,112.56 54.70,111.95 54.95,110.54 55.20,108.35 55.45,104.80 55.70,100.19 55.95,94.29 56.20,89.59 56.45,88.79 56.70,92.08 56.95,97.52 57.20,103.08 57.45,107.86 57.70,111.26 57.95,113.31 58.20,114.56 58.45,115.57 58.70,115.55 58.95,115.38 59.20,116.54 59.45,116.83 59.70,116.63 59.95,116.91 60.20,116.98 60.45,117.31 60.70,118.61 60.95,119.11 61.20,118.27 61.45,117.84 61.70,118.18 61.95,118.84 62.20,118.86 62.45,118.51 62.70,119.12 62.95,119.69 63.20,119.45 63.45,119.02 63.70,118.81 63.95,119.05 64.20,118.97 64.45,119.50 64.70,120.08 64.95,120.12 65.20,120.90 65.45,121.17 65.70,120.39 65.95,120.37 66.20,121.09 66.45,120.70 66.70,120.17 66.95,120.42 67.20,120.30 67.45,120.82 67.70,120.66 67.95,120.00 68.20,120.67 68.45,120.98 68.70,121.17 68.95,121.38 69.20,121.34 69.45,121.65 69.70,121.17 69.95,120.91 70.20,121.34 70.45,121.40 70.70,121.68 70.95,121.40 71.20,121.18 71.45,121.68 71.70,121.98 71.95,121.58 72.20,122.07 72.45,122.93 72.70,121.96 72.95,121.40 73.20,122.54 73.45,122.69 73.70,122.05 73.95,121.78 74.20,121.57 74.45,121.57 74.70,121.56 74.95,121.82 75.20,121.84 75.45,121.45 75.70,121.11 75.95,120.97 76.20,120.58 76.45,119.75 76.70,119.18 76.95,118.05 77.20,116.76 77.45,116.19 77.70,116.15 77.95,116.34 78.20,116.38 78.45,116.53 78.70,116.29 78.95,116.94 79.20,118.31 79.45,118.97 79.70,119.95 79.95,120.81 80.20,121.51 80.45,121.78 80.70,122.19 80.95,122.23 81.20,121.26 81.45,121.21 81.70,121.11 81.95,120.99 82.20,121.38 82.45,120.97 82.70,119.72 82.95,119.01 83.20,120.04 83.45,120.86 83.70,121.00 83.95,121.76 84.20,122.86 84.45,123.18 84.70,122.66 84.95,122.46 85.20,122.67 85.45,122.47 85.70,122.05 85.95,122.30 86.20,122.38 86.45,122.40 86.70,122.75 86.95,123.48 87.20,123.26 87.45,122.61 87.70,122.86 87.95,123.06 88.20,123.45 88.45,123.24 88.70,122.76 88.95,122.48 89.20,122.50 89.45,123.16 89.70,123.48 89.95,123.09 90.20,122.96 90.45,123.24 90.70,123.47 90.95,123.27 91.20,123.04 91.45,122.68 91.70,122.40 91.95,123.35 92.20,123.04 92.45,122.47 92.70,123.13 92.95,123.10 93.20,122.79 93.45,122.86 93.70,123.07 93.95,123.04 94.20,122.49 94.45,122.45 94.70,122.72 94.95,122.59 95.20,122.85 95.45,123.14 95.70,123.28 95.95,122.91 96.20,122.87 96.45,123.29 96.70,123.30 96.95,123.31 97.20,122.90 97.45,122.41 97.70,122.63 97.95,122.25 98.20,122.02 98.45,122.21 98.70,121.99 98.95,121.60 99.20,121.40 99.45,121.84 99.70,122.30 99.95,122.53 100.20,122.20 100.45,121.81 100.70,121.53 100.95,121.64 101.20,121.75 101.45,121.74 101.70,122.25 101.95,122.01 102.20,121.03 102.45,120.74 102.70,120.69 102.95,120.53 103.20,121.25 103.45,121.60 103.70,120.74 103.95,120.80 104.20,121.53 104.45,121.18 104.70,120.57 104.95,120.52 105.20,120.71 105.45,120.89 105.70,121.06 105.95,121.13 106.20,121.04 106.45,120.99 106.70,120.75 106.95,119.85 107.20,119.53 107.45,119.96 107.70,119.80 107.95,119.88 108.20,119.80 108.45,119.19 108.70,119.61 108.95,119.97 109.20,119.53 109.45,119.52 109.70,119.66 109.95,119.41 110.20,118.32 110.45,117.95 110.70,118.42 110.95,118.24 111.20,118.34 111.45,118.87 111.70,118.58 111.95,117.83 112.20,118.45 112.45,118.56 112.70,117.55 112.95,117.65 113.20,118.03 113.45,117.67 113.70,117.69 113.95,117.66 114.20,117.08 114.45,117.18 114.70,117.57 114.95,117.25 115.20,117.00 115.45,117.03 115.70,117.60 115.95,117.30 116.20,116.76 116.45,116.82 116.70,116.26 116.95,116.35 117.20,116.51 117.45,116.53 117.70,116.24 117.95,115.58 118.20,115.21 118.45,115.39 118.70,115.58 118.95,115.70 119.20,115.52 119.45,115.30 119.70,115.48 119.95,115.10 120.20,114.14 120.45,113.66 120.70,113.57 120.95,114.26 121.20,114.32 121.45,114.12 121.70,114.43 121.95,114.47 122.20,114.48 122.45,113.87 122.70,113.43 122.95,113.38 123.20,113.39 123.45,113.11 123.70,112.95 123.95,113.46 124.20,112.89 124.45,112.41 124.70,112.53 124.95,112.41 125.20,112.80 125.45,112.62 125.70,112.49 125.95,111.94 126.20,111.93 126.45,112.10 126.70,111.85 126.95,111.96 127.20,110.95 127.45,110.57 127.70,111.25 127.95,111.80 128.20,111.71 128.45,111.23 128.70,110.64 128.95,110.86 129.20,111.66 129.45,111.15 129.70,110.47 129.95,109.89 130.20,110.10 130.45,111.22 130.70,111.08 130.95,110.57 131.20,110.42 131.45,109.68 131.70,109.81 131.95,109.64 132.20,109.10 132.45,109.43 132.70,109.64 132.95,109.57 133.20,109.33 133.45,108.90 133.70,108.32 133.95,108.46 134.20,108.52 134.45,108.03 134.70,107.77 134.95,107.90 135.20,107.64 135.45,107.29 135.70,107.25 135.95,107.58 136.20,108.06 136.45,108.47 136.70,107.83 136.95,106.97 137.20,107.54 137.45,107.57 137.70,107.11 137.95,107.55 138.20,107.44 138.45,106.52 138.70,106.13 138.95,106.43 139.20,106.81 139.45,106.23 139.70,105.75 139.95,106.11 140.20,106.27 140.45,105.53 140.70,105.00 140.95,104.70 141.20,103.42 141.45,102.83 141.70,103.53 141.95,103.89 142.20,103.71 142.45,104.28 142.70,105.46 142.95,106.21 143.20,105.57 143.45,106.01 143.70,106.41 143.95,106.02 144.20,106.76 144.45,106.83 144.70,106.58 144.95,106.03 145.20,106.21 145.45,106.37 145.70,105.52 145.95,106.55 146.20,107.50 146.45,107.24 146.70,106.82 146.95,106.75 147.20,107.48 147.45,107.53 147.70,107.10 147.95,106.34 148.20,106.30 148.45,105.98 148.70,105.45 148.95,105.93 149.20,105.92 149.45,105.69 149.70,105.95 149.95,106.74 150.20,107.50 150.45,107.30 150.70,107.57 150.95,107.59 151.20,107.34 151.45,107.98 151.70,107.88 151.95,107.70 152.20,107.83 152.45,108.10 152.70,109.09 152.95,108.99 153.20,108.74 153.45,108.85 153.70,108.61 153.95,108.67 154.20,109.55 154.45,110.72 154.70,110.60 154.95,109.87 155.20,110.09 155.45,110.34 155.70,110.52 155.95,110.84 156.20,110.84 156.45,111.08 156.70,110.98 156.95,110.84 157.20,110.62 157.45,110.70 157.70,110.88 157.95,111.05 158.20,111.26 158.45,111.41 158.70,111.87 158.95,111.45 159.20,110.96 159.45,110.76 159.70,110.57 159.95,110.41 160.20,109.48 160.45,108.35 160.70,108.83 160.95,109.43 161.20,110.49 161.45,111.55 161.70,110.85 161.95,112.02 162.20,113.34 162.45,112.21 162.70,111.54 162.95,111.31 163.20,110.80 163.45,110.20 163.70,110.23 163.95,111.41 164.20,112.51 164.45,113.46 164.70,113.98 164.95,114.73 165.20,114.85 165.45,114.57 165.70,114.52 165.95,114.38 166.20,115.45 166.45,115.66 166.70,115.55 166.95,115.92 167.20,115.59 167.45,115.63 167.70,115.89 167.95,115.97 168.20,116.44 168.45,116.88 168.70,116.62 168.95,116.29 169.20,116.65 169.45,116.99 169.70,117.31 169.95,118.20 170.20,118.22 170.45,117.52 170.70,117.30 170.95,117.13 171.20,116.98 171.45,117.00 171.70,117.20 171.95,117.43 172.20,117.81 172.45,117.88 172.70,117.67 172.95,117.50 173.20,118.08 173.45,118.63 173.70,118.73 173.95,118.87 174.20,118.85 174.45,118.61 174.70,118.45 174.95,119.35 175.20,118.86 175.45,118.49 175.70,119.38 175.95,119.22 176.20,119.02 176.45,119.32 176.70,118.98 176.95,118.79 177.20,118.79 177.45,118.54 177.70,118.67 177.95,118.88 178.20,119.16 178.45,119.40 178.70,119.00 178.95,119.51 179.20,120.31 179.45,120.01 179.70,119.63 179.95,119.45 180.20,119.78 180.45,119.98 180.70,119.40 180.95,119.55 181.20,120.94 181.45,120.25 181.70,119.76 181.95,120.46 182.20,120.20 182.45,120.55 182.70,120.30 182.95,120.01 183.20,120.84 183.45,120.79 183.70,120.31 183.95,120.46 184.20,120.51 184.45,120.99 184.70,120.91 184.95,120.78 185.20,120.75 185.45,120.77 185.70,121.19 185.95,120.32 186.20,120.43 186.45,120.95 186.70,120.90 186.95,121.74 187.20,121.62 187.45,120.95 187.70,121.77 187.95,122.19 188.20,122.30 188.45,122.44 188.70,121.82 188.95,121.79 189.20,122.48 189.45,122.85 189.70,122.58 189.95,122.40 190.20,122.44 190.45,122.32 190.70,122.99 190.95,123.23 191.20,122.41 191.45,122.34 191.70,122.95 191.95,123.34 192.20,123.16 192.45,122.85 192.70,122.97 192.95,122.74 193.20,122.43 193.45,123.22 193.70,123.53 193.95,123.47 194.20,124.04 194.45,124.19 194.70,123.91 194.95,124.41 195.20,124.67 195.45,124.02 195.70,124.10 195.95,124.40 196.20,124.00 196.45,123.98 196.70,124.25 196.95,123.72 197.20,123.79 197.45,124.35 197.70,124.34 197.95,124.02 198.20,124.11 198.45,124.65 198.70,124.85 198.95,124.60 199.20,124.83 199.45,124.88 199.70,124.70 199.95,125.50 200.20,125.41 200.45,124.92 200.70,125.47 200.95,125.55 201.20,125.19 201.45,125.41 201.70,125.84 201.95,125.18 202.20,124.67 202.45,125.06 202.70,125.02 202.95,125.11 203.20,125.22 203.45,125.59 203.70,125.62 203.95,125.61 204.20,126.02 204.45,125.82 204.70,125.78 204.95,126.50 205.20,126.59 205.45,125.95 205.70,125.87 205.95,125.81 206.20,125.93 206.45,126.47 206.70,126.18 206.95,125.90 207.20,126.48 207.45,126.42 207.70,126.18 207.95,126.05 208.20,125.79 208.45,125.96 208.70,126.84 208.95,126.89 209.20,126.15 209.45,126.13 209.70,126.26 209.95,126.63 210.20,126.76 210.45,127.18 210.70,127.21 210.95,127.06 211.20,127.11 211.45,126.89 211.70,126.43 211.95,126.25 212.20,126.66 212.45,126.66 212.70,126.09 212.95,126.43 213.20,126.96 213.45,126.61 213.70,126.67 213.95,126.76 214.20,126.97 214.45,126.70 214.70,126.35 214.95,126.81 215.20,127.14 215.45,126.98 215.70,126.80 215.95,126.70 216.20,126.87 216.45,127.46 216.70,127.20 216.95,127.33 217.20,127.89 217.45,127.35 217.70,127.36 217.95,127.10 218.20,126.41 218.45,126.49 218.70,126.89 218.95,127.19 219.20,127.18 219.45,127.33 219.70,126.89 219.95,127.03 220.20,127.25 220.45,126.95 220.70,127.25 220.95,127.13 221.20,126.88 221.45,126.94 221.70,127.35 221.95,127.82 222.20,128.00 222.45,127.57 222.70,127.21 222.95,127.25 223.20,127.62 223.45,127.33 223.70,127.57 223.95,128.03 224.20,127.48 224.45,127.73 224.70,128.26 224.95,128.28 225.20,128.31 225.45,128.27 225.70,128.34 225.95,128.68 226.20,128.32 226.45,128.39 226.70,128.49 226.95,128.13 227.20,127.84 227.45,127.75 227.70,128.25 227.95,127.98 228.20,127.97 228.45,128.46 228.70,128.37 228.95,127.67 229.20,127.58 229.45,128.41 229.70,128.24 229.95,128.11 230.20,127.67 230.45,127.85 230.70,128.35 230.95,128.42 231.20,128.11 231.45,128.08 231.70,128.55 231.95,128.60 232.20,128.42 232.45,128.03 232.70,128.95 232.95,128.91 233.20,128.09 233.45,128.26 233.70,128.19 233.95,128.62 234.20,129.42 234.45,128.90 234.70,127.94 234.95,128.49 235.20,129.31 235.45,129.23 235.70,129.26 235.95,128.80 236.20,128.44 236.45,128.31 236.70,127.98 236.95,128.66 237.20,128.89 237.45,129.28 237.70,129.50 237.95,128.70 238.20,128.92 238.45,129.63 238.70,129.56 238.95,128.72 239.20,128.70 239.45,129.45 239.70,129.23 239.95,128.64 240.20,129.09 240.45,129.37 240.70,128.79 240.95,128.67 241.20,128.79 241.45,129.00 241.70,129.27 241.95,129.53 242.20,129.72 242.45,128.98 242.70,128.92 242.95,129.63 243.20,129.67 243.45,129.73 243.70,129.47 243.95,128.93 244.20,129.37 244.45,129.36 244.70,128.51 244.95,129.12 245.20,129.55 245.45,129.20 245.70,129.03 245.95,128.76 246.20,128.86 246.45,129.15 246.70,129.61 246.95,129.08 247.20,129.21 247.45,129.55 247.70,129.06 247.95,129.61 248.20,129.91 248.45,129.30 248.70,129.87 248.95,130.08 249.20,129.65 249.45,129.98 249.70,130.33 249.95,130.17 250.20,130.08 250.45,130.02 250.70,130.08 250.95,130.11 251.20,129.71 251.45,130.49 251.70,130.71 251.95,130.23 252.20,130.81 252.45,130.90 252.70,130.07 252.95,130.20 253.20,130.12 253.45,130.26 253.70,130.96 253.95,130.51 254.20,130.02 254.45,130.26 254.70,130.47 254.95,130.17 255.20,130.35 255.45,130.08 255.70,129.82 255.95,130.31 256.20,130.39"/>
</g>
<line x1="27.20" y1="10.50" x2="256.40" y2="10.50" stroke="#dadada" stroke-width="1"/>
<line x1="256.40" y1="10.50" x2="256.40" y2="198.50" stroke="#dadada" stroke-width="1"/>
<line x1="27.20" y1="10.50" x2="27.20" y2="198.50" stroke="#7a7a7a" stroke-width="1"/>
<line x1="27.20" y1="198.50" x2="256.40" y2="198.50" stroke="#7a7a7a" stroke-width="1"/>
<line x1="27.20" y1="198.50" x2="27.20" y2="202.50" stroke="#7a7a7a" stroke-width="1"/>
<line x1="43.60" y1="198.50" x2="43.60" y2="200.50" stroke="#7a7a7a" stroke-width="1"/>
<line x1="60.00" y1="198.50" x2="60.00" y2="202.50" stroke="#7a7a7a" stroke-width="1"/>
<line x1="76.40" y1="198.50" x2="76.40" y2="200.50" stroke="#7a7a7a" stroke-width="1"/>
<line x1="92.80" y1="198.50" x2="92.80" y2="202.50" stroke="#7a7a7a" stroke-width="1"/>
<line x1="109.20" y1="198.50" x2="109.20" y2="200.50" stroke="#7a7a7a" stroke-width="1"/>
<line x1="125.60" y1="198.50" x2="125.60" y2="202.50" stroke="#7a7a7a" stroke-width="1"/>
<line x1="142.00" y1="198.50" x2="142.00" y2="200.50" stroke="#7a7a7a" stroke-width="1"/>
<line x1="158.40" y1="198.50" x2="158.40" y2="202.50" stroke="#7a7a7a" stroke-width="1"/>
<line x1="174.80" y1="198.50" x2="174.80" y2="200.50" stroke="#7a7a7a" stroke-width="1"/>
<line x1="191.20" y1="198.50" x2="191.20" y2="202.50" stroke="#7a7a7a" stroke-width="1"/>
<line x1="207.60" y1="198.50" x2="207.60" y2="200.50" stroke="#7a7a7a" stroke-width="1"/>
<line x1="224.00" y1="198.50" x2="224.00" y2="202.50" stroke="#7a7a7a" stroke-width="1"/>
<line x1="240.40" y1="198.50" x2="240.40" y2="200.50" stroke="#7a7a7a" stroke-width="1"/>
<line x1="256.80" y1="198.50" x2="256.80" y2="202.50" stroke="#7a7a7a" stroke-width="1"/>
<line x1="24.20" y1="10.50" x2="27.20" y2="10.50" stroke="#7a7a7a" stroke-width="1"/>
<line x1="24.20" y1="32.35" x2="27.20" y2="32.35" stroke="#7a7a7a" stroke-width="1"/>
<line x1="24.20" y1="54.20" x2="27.20" y2="54.20" stroke="#7a7a7a" stroke-width="1"/>
<line x1="24.20" y1="76.05" x2="27.20" y2="76.05" stroke="#7a7a7a" stroke-width="1"/>
<line x1="24.20" y1="97.90" x2="27.20" y2="97.90" stroke="#7a7a7a" stroke-width="1"/>
<line x1="24.20" y1="119.75" x2="27.20" y2="119.75" stroke="#7a7a7a" stroke-width="1"/>
<line x1="24.20" y1="141.60" x2="27.20" y2="141.60" stroke="#7a7a7a" stroke-width="1"/>
<line x1="24.20" y1="163.45" x2="27.20" y2="163.45" stroke="#7a7a7a" stroke-width="1"/>
<line x1="24.20" y1="185.30" x2="27.20" y2="185.30" stroke="#7a7a7a" stroke-width="1"/>
<clipPath id="cb"><rect x="316.60" y="13.80" width="222.70" height="184.50"/></clipPath>
<line x1="345.20" y1="13.80" x2="345.20" y2="128.00" stroke="#c4c4c4" stroke-width="1"/>
<line x1="405.60" y1="79.00" x2="405.60" y2="139.00" stroke="#c4c4c4" stroke-width="1"/>
<line x1="405.60" y1="165.00" x2="405.60" y2="197.00" stroke="#c4c4c4" stroke-width="1"/>
<line x1="327.40" y1="120.00" x2="327.40" y2="197.00" stroke="#c4c4c4" stroke-width="1"/>
<line x1="402.80" y1="144.00" x2="402.80" y2="197.00" stroke="#c4c4c4" stroke-width="1"/>
<g clip-path="url(#cb)">
<polyline fill="none" stroke="#7a7a7a" stroke-width="1.1" stroke-linejoin="round"  points="316.60,168.95 316.85,168.84 317.10,168.93 317.35,169.03 317.60,168.74 317.85,168.79 318.10,169.29 318.35,169.08 318.60,168.63 318.85,168.63 319.10,168.77 319.35,168.85 319.60,168.91 319.85,168.91 320.10,168.80 320.35,168.89 320.60,168.46 320.85,167.92 321.10,168.42 321.35,168.27 321.60,168.26 321.85,168.26 322.10,168.08 322.35,168.08 322.60,167.91 322.85,168.07 323.10,168.03 323.35,167.75 323.60,168.03 323.85,167.93 324.10,167.13 324.35,167.12 324.60,167.28 324.85,167.11 325.10,166.95 325.35,165.96 325.60,165.19 325.85,164.84 326.10,163.60 326.35,161.87 326.60,157.96 326.85,149.35 327.10,140.24 327.35,149.91 327.60,157.99 327.85,161.81 328.10,163.60 328.35,164.83 328.60,165.11 328.85,165.41 329.10,166.47 329.35,166.69 329.60,166.86 329.85,167.65 330.10,168.06 330.35,167.92 330.60,167.27 330.85,167.26 331.10,167.93 331.35,167.93 331.60,167.86 331.85,168.56 332.10,168.55 332.35,167.77 332.60,167.88 332.85,168.03 333.10,167.94 333.35,168.00 333.60,168.23 333.85,168.31 334.10,167.94 334.35,167.88 334.60,168.23 334.85,168.18 335.10,168.33 335.35,168.59 335.60,168.18 335.85,168.11 336.10,168.71 336.35,168.97 336.60,168.58 336.85,168.47 337.10,168.36 337.35,167.91 337.60,168.17 337.85,168.52 338.10,168.53 338.35,168.49 338.60,168.46 338.85,168.38 339.10,168.43 339.35,168.71 339.60,168.62 339.85,168.63 340.10,168.29 340.35,167.97 340.60,168.60 340.85,169.10 341.10,168.86 341.35,168.49 341.60,168.18 341.85,168.27 342.10,168.67 342.35,168.30 342.60,168.25 342.85,168.64 343.10,168.61 343.35,168.29 343.60,168.30 343.85,168.22 344.10,168.41 344.35,168.72 344.60,168.19 344.85,168.43 345.10,168.88 345.35,168.48 345.60,168.69 345.85,168.61 346.10,168.23 346.35,168.66 346.60,168.14 346.85,168.10 347.10,168.53 347.35,168.33 347.60,168.12 347.85,168.19 348.10,168.17 348.35,167.91 348.60,168.04 348.85,167.98 349.10,168.38 349.35,168.35 349.60,167.89 349.85,168.08 350.10,168.22 350.35,168.43 350.60,168.58 350.85,168.35 351.10,168.10 351.35,168.15 351.60,168.38 351.85,168.50 352.10,168.22 352.35,167.66 352.60,168.18 352.85,168.76 353.10,168.38 353.35,168.24 353.60,168.07 353.85,167.80 354.10,167.82 354.35,167.96 354.60,167.89 354.85,167.63 355.10,167.68 355.35,168.07 355.60,168.02 355.85,167.90 356.10,167.58 356.35,167.52 356.60,167.89 356.85,167.68 357.10,167.35 357.35,167.66 357.60,167.83 357.85,167.83 358.10,167.89 358.35,167.91 358.60,167.91 358.85,167.48 359.10,167.51 359.35,167.73 359.60,167.87 359.85,167.83 360.10,167.60 360.35,167.82 360.60,168.09 360.85,168.03 361.10,167.96 361.35,167.86 361.60,167.76 361.85,167.81 362.10,167.69 362.35,167.49 362.60,167.40 362.85,167.82 363.10,167.75 363.35,167.19 363.60,167.07 363.85,167.07 364.10,167.15 364.35,166.89 364.60,166.40 364.85,166.64 365.10,166.66 365.35,166.58 365.60,166.86 365.85,166.96 366.10,167.19 366.35,166.96 366.60,166.44 366.85,166.06 367.10,165.93 367.35,166.08 367.60,165.74 367.85,165.65 368.10,165.96 368.35,165.97 368.60,165.78 368.85,165.51 369.10,165.16 369.35,164.56 369.60,163.44 369.85,162.02 370.10,160.61 370.35,158.76 370.60,158.26 370.85,159.59 371.10,161.81 371.35,163.42 371.60,164.22 371.85,164.85 372.10,164.71 372.35,165.01 372.60,165.27 372.85,165.14 373.10,165.25 373.35,165.22 373.60,165.06 373.85,165.16 374.10,165.16 374.35,165.07 374.60,165.01 374.85,164.70 375.10,164.67 375.35,164.83 375.60,164.92 375.85,165.21 376.10,164.82 376.35,164.56 376.60,164.41 376.85,164.13 377.10,164.42 377.35,164.13 377.60,163.82 377.85,164.25 378.10,164.58 378.35,164.48 378.60,164.25 378.85,164.65 379.10,164.72 379.35,164.08 379.60,164.39 379.85,164.63 380.10,164.16 380.35,164.21 380.60,164.24 380.85,164.06 381.10,164.00 381.35,163.59 381.60,163.66 381.85,163.81 382.10,163.33 382.35,163.05 382.60,163.32 382.85,163.25 383.10,162.86 383.35,162.73 383.60,162.19 383.85,160.97 384.10,160.19 384.35,160.13 384.60,160.41 384.85,161.32 385.10,162.05 385.35,162.50 385.60,163.12 385.85,163.11 386.10,163.21 386.35,163.61 386.60,163.39 386.85,163.38 387.10,163.35 387.35,162.76 387.60,162.77 387.85,162.95 388.10,162.76 388.35,162.67 388.60,162.80 388.85,162.82 389.10,162.35 389.35,162.28 389.60,162.50 389.85,162.20 390.10,161.90 390.35,161.88 390.60,161.75 390.85,161.81 391.10,162.04 391.35,162.26 391.60,162.21 391.85,161.94 392.10,161.84 392.35,161.82 392.60,161.43 392.85,161.21 393.10,161.26 393.35,161.00 393.60,160.76 393.85,160.60 394.10,160.54 394.35,160.31 394.60,160.37 394.85,160.52 395.10,160.31 395.35,160.20 395.60,160.14 395.85,159.77 396.10,159.42 396.35,159.03 396.60,158.43 396.85,158.18 397.10,158.74 397.35,158.57 397.60,158.18 397.85,158.64 398.10,158.23 398.35,157.99 398.60,158.16 398.85,157.74 399.10,157.56 399.35,157.21 399.60,156.31 399.85,156.00 400.10,155.81 400.35,155.29 400.60,154.95 400.85,155.46 401.10,155.36 401.35,154.53 401.60,153.89 401.85,152.87 402.10,151.43 402.35,149.84 402.60,149.39 402.85,150.37 403.10,151.88 403.35,153.21 403.60,154.27 403.85,154.61 404.10,154.58 404.35,154.39 404.60,153.90 404.85,153.37 405.10,153.14 405.35,152.60 405.60,152.08 405.85,152.40 406.10,152.42 406.35,152.57 406.60,152.77 406.85,152.54 407.10,152.68 407.35,152.94 407.60,153.29 407.85,153.75 408.10,153.30 408.35,152.67 408.60,152.62 408.85,152.45 409.10,152.06 409.35,151.98 409.60,152.12 409.85,152.01 410.10,151.55 410.35,151.33 410.60,151.11 410.85,151.20 411.10,151.23 411.35,150.87 411.60,150.87 411.85,150.69 412.10,150.45 412.35,150.10 412.60,150.54 412.85,150.82 413.10,150.40 413.35,150.63 413.60,150.42 413.85,149.97 414.10,149.85 414.35,149.84 414.60,149.79 414.85,149.48 415.10,149.19 415.35,149.05 415.60,149.20 415.85,148.60 416.10,148.21 416.35,148.41 416.60,148.24 416.85,147.79 417.10,147.85 417.35,147.93 417.60,147.59 417.85,147.50 418.10,147.09 418.35,147.01 418.60,146.88 418.85,146.66 419.10,146.80 419.35,146.76 419.60,146.44 419.85,145.63 420.10,144.55 420.35,142.13 420.60,138.03 420.85,134.73 421.10,134.46 421.35,137.26 421.60,140.75 421.85,143.33 422.10,145.43 422.35,146.46 422.60,146.48 422.85,146.64 423.10,146.82 423.35,147.29 423.60,147.55 423.85,147.59 424.10,146.97 424.35,146.89 424.60,147.79 424.85,148.19 425.10,148.04 425.35,147.35 425.60,147.51 425.85,147.76 426.10,147.32 426.35,147.34 426.60,147.90 426.85,148.21 427.10,147.99 427.35,147.25 427.60,147.21 427.85,146.84 428.10,146.32 428.35,146.64 428.60,147.40 428.85,148.17 429.10,148.34 429.35,148.41 429.60,148.31 429.85,148.38 430.10,148.07 430.35,148.29 430.60,148.89 430.85,148.66 431.10,148.52 431.35,148.70 431.60,149.06 431.85,149.12 432.10,148.86 432.35,148.72 432.60,148.45 432.85,148.47 433.10,148.78 433.35,148.80 433.60,148.74 433.85,148.88 434.10,148.89 434.35,148.74 434.60,148.72 434.85,148.63 435.10,148.37 435.35,148.20 435.60,147.64 435.85,147.55 436.10,147.39 436.35,147.04 436.60,147.01 436.85,146.74 437.10,146.37 437.35,145.46 437.60,144.72 437.85,143.25 438.10,140.56 438.35,137.77 438.60,136.53 438.85,137.91 439.10,140.42 439.35,142.45 439.60,143.96 439.85,145.08 440.10,145.51 440.35,144.67 440.60,142.47 440.85,140.72 441.10,140.68 441.35,142.64 441.60,145.16 441.85,146.55 442.10,147.64 442.35,148.54 442.60,148.66 442.85,148.65 443.10,149.00 443.35,149.68 443.60,149.68 443.85,149.34 444.10,149.69 444.35,149.69 444.60,149.14 444.85,149.11 445.10,149.04 445.35,148.43 445.60,147.19 445.85,145.01 446.10,141.70 446.35,138.24 446.60,137.74 446.85,140.81 447.10,144.48 447.35,146.95 447.60,148.22 447.85,148.01 448.10,148.06 448.35,149.06 448.60,149.65 448.85,149.71 449.10,150.25 449.35,150.92 449.60,150.79 449.85,151.03 450.10,151.25 450.35,151.09 450.60,151.25 450.85,151.24 451.10,150.65 451.35,150.17 451.60,149.74 451.85,149.01 452.10,149.24 452.35,149.87 452.60,150.75 452.85,151.72 453.10,151.50 453.35,151.51 453.60,152.02 453.85,152.00 454.10,151.59 454.35,151.73 454.60,152.42 454.85,152.10 455.10,151.69 455.35,151.65 455.60,150.98 455.85,150.40 456.10,150.38 456.35,151.27 456.60,152.19 456.85,152.34 457.10,152.87 457.35,153.00 457.60,152.95 457.85,153.34 458.10,153.53 458.35,153.64 458.60,153.65 458.85,153.52 459.10,153.24 459.35,152.69 459.60,151.97 459.85,150.87 460.10,150.67 460.35,151.89 460.60,152.89 460.85,153.58 461.10,154.17 461.35,154.29 461.60,154.11 461.85,154.69 462.10,154.81 462.35,155.14 462.60,155.57 462.85,155.51 463.10,155.76 463.35,155.97 463.60,156.07 463.85,156.08 464.10,156.29 464.35,156.74 464.60,157.15 464.85,157.37 465.10,157.34 465.35,157.10 465.60,156.75 465.85,156.96 466.10,157.51 466.35,157.36 466.60,157.40 466.85,157.79 467.10,157.70 467.35,157.70 467.60,157.80 467.85,157.29 468.10,157.19 468.35,157.50 468.60,157.75 468.85,157.71 469.10,157.57 469.35,157.60 469.60,157.73 469.85,157.98 470.10,158.21 470.35,158.34 470.60,158.16 470.85,158.04 471.10,158.01 471.35,157.97 471.60,158.24 471.85,157.71 472.10,157.34 472.35,157.85 472.60,158.05 472.85,157.66 473.10,157.34 473.35,157.51 473.60,157.12 473.85,156.40 474.10,156.40 474.35,156.69 474.60,157.12 474.85,157.41 475.10,157.81 475.35,158.13 475.60,157.69 475.85,157.60 476.10,157.57 476.35,157.77 476.60,158.30 476.85,158.20 477.10,158.10 477.35,157.97 477.60,157.86 477.85,158.52 478.10,158.20 478.35,158.02 478.60,158.56 478.85,157.98 479.10,157.49 479.35,157.70 479.60,158.21 479.85,158.35 480.10,158.15 480.35,158.41 480.60,158.49 480.85,158.43 481.10,158.37 481.35,158.58 481.60,158.52 481.85,158.66 482.10,158.78 482.35,158.32 482.60,158.54 482.85,158.82 483.10,158.33 483.35,158.33 483.60,158.49 483.85,158.32 484.10,158.79 484.35,158.82 484.60,158.77 484.85,158.91 485.10,159.26 485.35,159.35 485.60,158.78 485.85,158.62 486.10,158.71 486.35,158.99 486.60,159.21 486.85,159.42 487.10,159.49 487.35,159.36 487.60,159.43 487.85,159.42 488.10,159.45 488.35,159.67 488.60,159.81 488.85,159.59 489.10,159.12 489.35,159.11 489.60,159.55 489.85,159.26 490.10,159.14 490.35,159.74 490.60,159.75 490.85,159.46 491.10,159.94 491.35,160.45 491.60,160.08 491.85,160.09 492.10,160.41 492.35,159.95 492.60,160.24 492.85,160.30 493.10,159.74 493.35,159.73 493.60,159.82 493.85,159.80 494.10,159.80 494.35,160.30 494.60,160.36 494.85,160.12 495.10,160.40 495.35,160.30 495.60,160.20 495.85,160.34 496.10,160.21 496.35,160.30 496.60,160.30 496.85,160.30 497.10,160.13 497.35,160.03 497.60,160.26 497.85,160.35 498.10,160.02 498.35,159.90 498.60,159.98 498.85,160.10 499.10,160.26 499.35,160.28 499.60,160.10 499.85,160.07 500.10,159.89 500.35,159.27 500.60,159.42 500.85,159.48 501.10,158.98 501.35,158.61 501.60,158.40 501.85,157.98 502.10,157.86 502.35,158.36 502.60,158.58 502.85,158.84 503.10,159.51 503.35,160.11 503.60,160.28 503.85,160.62 504.10,160.54 504.35,160.25 504.60,160.18 504.85,160.15 505.10,160.12 505.35,159.96 505.60,160.45 505.85,160.29 506.10,159.97 506.35,160.46 506.60,160.46 506.85,160.21 507.10,160.17 507.35,160.29 507.60,160.15 507.85,160.25 508.10,160.41 508.35,160.34 508.60,160.58 508.85,160.50 509.10,160.48 509.35,160.59 509.60,160.62 509.85,160.78 510.10,160.76 510.35,160.56 510.60,160.37 510.85,160.40 511.10,160.60 511.35,160.93 511.60,161.12 511.85,160.88 512.10,160.69 512.35,160.48 512.60,160.04 512.85,160.20 513.10,160.51 513.35,160.39 513.60,160.18 513.85,160.60 514.10,160.80 514.35,160.37 514.60,161.00 514.85,161.38 515.10,160.87 515.35,160.98 515.60,160.90 515.85,161.09 516.10,160.94 516.35,160.38 516.60,160.67 516.85,160.78 517.10,161.10 517.35,160.94 517.60,160.53 517.85,160.90 518.10,161.17 518.35,161.33 518.60,161.30 518.85,161.54 519.10,161.39 519.35,161.00 519.60,161.27 519.85,161.19 520.10,160.96 520.35,160.92 520.60,160.85 520.85,160.71 521.10,160.72 521.35,160.63 521.60,160.80 521.85,160.79 522.10,161.11 522.35,161.75 522.60,161.56 522.85,161.17 523.10,160.83 523.35,161.11 523.60,161.25 523.85,161.11 524.10,160.93 524.35,161.02 524.60,160.99 524.85,160.80 525.10,160.61 525.35,160.45 525.60,160.88 525.85,160.91 526.10,160.72 526.35,160.96 526.60,161.02 526.85,161.10 527.10,160.63 527.35,160.49 527.60,161.06 527.85,160.64 528.10,160.27 528.35,160.74 528.60,160.78 528.85,160.48 529.10,160.80 529.35,160.85 529.60,160.82 529.85,160.71 530.10,160.66 530.35,161.05 530.60,161.05 530.85,160.40 531.10,160.46 531.35,160.90 531.60,160.59 531.85,160.85 532.10,160.69 532.35,160.78 532.60,160.99 532.85,160.93 533.10,161.05 533.35,160.47 533.60,160.49 533.85,160.82 534.10,160.91 534.35,161.05 534.60,160.76 534.85,160.65 535.10,160.96 535.35,160.81 535.60,160.48 535.85,160.34 536.10,160.67 536.35,161.01 536.60,160.70 536.85,160.28 537.10,160.68 537.35,160.64 537.60,160.42 537.85,160.57 538.10,160.18 538.35,160.37 538.60,160.67 538.85,160.93 539.10,161.41"/>
<polyline fill="none" stroke="#202020" stroke-width="1.1" stroke-linejoin="round"  points="316.60,196.35 316.85,196.44 317.10,196.56 317.35,196.39 317.60,196.18 317.85,196.40 318.10,196.44 318.35,196.26 318.60,196.26 318.85,196.23 319.10,196.19 319.35,196.27 319.60,196.46 319.85,196.33 320.10,196.04 320.35,196.08 320.60,196.05 320.85,195.97 321.10,196.24 321.35,196.54 321.60,196.44 321.85,196.07 322.10,196.09 322.35,195.95 322.60,195.78 322.85,196.16 323.10,196.26 323.35,195.87 323.60,195.52 323.85,195.66 324.10,195.72 324.35,195.46 324.60,195.39 324.85,195.26 325.10,194.77 325.35,194.51 325.60,194.20 325.85,193.51 326.10,192.82 326.35,192.16 326.60,191.04 326.85,188.98 327.10,184.04 327.35,166.81 327.60,134.06 327.85,166.62 328.10,183.73 328.35,188.68 328.60,191.06 328.85,192.67 329.10,193.26 329.35,193.44 329.60,194.11 329.85,194.72 330.10,195.02 330.35,195.22 330.60,195.26 330.85,195.35 331.10,195.73 331.35,196.05 331.60,196.04 331.85,195.94 332.10,196.07 332.35,196.23 332.60,196.25 332.85,196.06 333.10,196.05 333.35,196.24 333.60,196.14 333.85,195.90 334.10,196.03 334.35,196.22 334.60,196.27 334.85,196.24 335.10,196.08 335.35,196.02 335.60,195.99 335.85,195.94 336.10,195.99 336.35,196.04 336.60,196.22 336.85,196.14 337.10,196.02 337.35,196.09 337.60,196.25 337.85,196.34 338.10,196.15 338.35,196.21 338.60,196.25 338.85,196.12 339.10,196.27 339.35,196.40 339.60,196.42 339.85,196.47 340.10,196.37 340.35,196.26 340.60,196.07 340.85,196.13 341.10,196.25 341.35,196.25 341.60,196.24 341.85,196.10 342.10,195.99 342.35,196.14 342.60,196.38 342.85,196.28 343.10,196.19 343.35,196.37 343.60,196.23 343.85,196.05 344.10,196.02 344.35,196.18 344.60,196.33 344.85,196.15 345.10,195.95 345.35,195.98 345.60,196.26 345.85,196.25 346.10,196.10 346.35,196.20 346.60,196.11 346.85,196.05 347.10,196.24 347.35,196.16 347.60,196.01 347.85,196.11 348.10,196.19 348.35,196.14 348.60,196.17 348.85,196.22 349.10,196.10 349.35,196.01 349.60,196.15 349.85,196.34 350.10,196.43 350.35,196.22 350.60,196.19 350.85,196.35 351.10,196.23 351.35,196.20 351.60,196.28 351.85,196.41 352.10,196.21 352.35,196.08 352.60,196.17 352.85,196.08 353.10,196.21 353.35,196.31 353.60,196.08 353.85,195.96 354.10,196.09 354.35,195.96 354.60,196.02 354.85,196.16 355.10,196.08 355.35,196.12 355.60,196.28 355.85,196.25 356.10,196.02 356.35,196.19 356.60,196.17 356.85,195.92 357.10,195.83 357.35,195.99 357.60,196.16 357.85,196.09 358.10,196.07 358.35,196.00 358.60,195.90 358.85,195.82 359.10,195.94 359.35,196.03 359.60,196.15 359.85,196.06 360.10,195.82 360.35,195.77 360.60,195.95 360.85,195.90 361.10,195.82 361.35,196.08 361.60,195.96 361.85,195.86 362.10,195.63 362.35,195.49 362.60,195.52 362.85,195.55 363.10,195.70 363.35,195.58 363.60,195.65 363.85,195.75 364.10,195.56 364.35,195.44 364.60,195.30 364.85,195.28 365.10,195.57 365.35,195.41 365.60,195.10 365.85,195.01 366.10,195.03 366.35,195.20 366.60,195.20 366.85,195.05 367.10,195.07 367.35,195.39 367.60,195.40 367.85,195.31 368.10,195.23 368.35,194.89 368.60,194.88 368.85,194.94 369.10,194.53 369.35,193.86 369.60,192.84 369.85,190.96 370.10,188.39 370.35,185.76 370.60,184.23 370.85,185.48 371.10,188.34 371.35,190.84 371.60,192.80 371.85,193.95 372.10,194.55 372.35,195.02 372.60,195.15 372.85,194.98 373.10,194.96 373.35,195.27 373.60,195.36 373.85,195.21 374.10,195.24 374.35,195.38 374.60,195.38 374.85,195.31 375.10,195.01 375.35,194.60 375.60,194.29 375.85,194.02 376.10,193.80 376.35,194.05 376.60,194.51 376.85,195.02 377.10,195.55 377.35,195.71 377.60,195.69 377.85,195.49 378.10,195.52 378.35,195.55 378.60,195.52 378.85,195.45 379.10,195.33 379.35,195.47 379.60,195.72 379.85,195.66 380.10,195.71 380.35,196.00 380.60,195.62 380.85,195.32 381.10,195.34 381.35,195.31 381.60,195.34 381.85,195.32 382.10,195.44 382.35,195.50 382.60,195.36 382.85,195.17 383.10,194.97 383.35,194.63 383.60,194.02 383.85,192.91 384.10,191.37 384.35,189.65 384.60,188.94 384.85,190.01 385.10,191.52 385.35,192.72 385.60,193.94 385.85,194.72 386.10,194.61 386.35,194.80 386.60,195.28 386.85,195.41 387.10,195.52 387.35,195.58 387.60,195.49 387.85,195.24 388.10,195.12 388.35,195.36 388.60,195.56 388.85,195.44 389.10,195.31 389.35,195.48 389.60,195.34 389.85,195.09 390.10,195.28 390.35,195.51 390.60,195.49 390.85,195.23 391.10,195.29 391.35,195.40 391.60,195.47 391.85,195.60 392.10,195.57 392.35,195.65 392.60,195.57 392.85,195.59 393.10,195.78 393.35,195.74 393.60,195.75 393.85,195.64 394.10,195.60 394.35,195.69 394.60,195.49 394.85,195.45 395.10,195.49 395.35,195.43 395.60,195.49 395.85,195.65 396.10,195.59 396.35,195.47 396.60,195.32 396.85,195.28 397.10,195.49 397.35,195.44 397.60,195.12 397.85,194.50 398.10,193.59 398.35,192.64 398.60,191.68 398.85,191.23 399.10,191.92 399.35,192.68 399.60,193.24 399.85,193.15 400.10,192.54 400.35,192.05 400.60,191.93 400.85,192.36 401.10,192.87 401.35,193.12 401.60,192.45 401.85,190.72 402.10,187.67 402.35,183.29 402.60,179.89 402.85,180.44 403.10,184.18 403.35,188.66 403.60,191.57 403.85,193.10 404.10,194.08 404.35,194.58 404.60,195.00 404.85,195.60 405.10,195.78 405.35,195.65 405.60,195.82 405.85,195.64 406.10,195.60 406.35,195.85 406.60,195.85 406.85,195.72 407.10,195.77 407.35,195.60 407.60,195.45 407.85,195.60 408.10,195.64 408.35,195.35 408.60,195.06 408.85,194.98 409.10,194.99 409.35,195.22 409.60,195.45 409.85,195.58 410.10,195.54 410.35,195.47 410.60,195.68 410.85,195.62 411.10,195.59 411.35,195.65 411.60,195.46 411.85,195.45 412.10,195.16 412.35,194.43 412.60,193.52 412.85,192.41 413.10,191.52 413.35,190.58 413.60,190.62 413.85,191.94 414.10,193.34 414.35,194.38 414.60,194.73 414.85,195.32 415.10,195.68 415.35,195.65 415.60,195.68 415.85,195.62 416.10,195.74 416.35,195.97 416.60,196.14 416.85,196.00 417.10,195.98 417.35,196.01 417.60,195.98 417.85,196.05 418.10,196.11 418.35,196.03 418.60,195.96 418.85,196.05 419.10,196.07 419.35,195.97 419.60,196.14 419.85,196.17 420.10,196.05 420.35,196.10 420.60,196.11 420.85,195.80 421.10,195.78 421.35,195.79 421.60,195.08 421.85,194.56 422.10,194.22 422.35,193.59 422.60,192.92 422.85,193.10 423.10,194.03 423.35,194.63 423.60,195.01 423.85,195.48 424.10,195.91 424.35,196.01 424.60,195.96 424.85,195.94 425.10,195.73 425.35,195.91 425.60,196.05 425.85,195.76 426.10,195.75 426.35,195.99 426.60,195.83 426.85,195.76 427.10,195.81 427.35,195.65 427.60,195.40 427.85,195.09 428.10,194.62 428.35,193.83 428.60,193.03 428.85,192.36 429.10,192.30 429.35,192.99 429.60,193.68 429.85,194.52 430.10,195.36 430.35,195.73 430.60,195.56 430.85,195.63 431.10,195.84 431.35,195.72 431.60,195.65 431.85,195.66 432.10,195.87 432.35,195.93 432.60,195.73 432.85,195.59 433.10,195.58 433.35,195.69 433.60,195.91 433.85,195.70 434.10,195.47 434.35,195.49 434.60,195.35 434.85,195.35 435.10,195.35 435.35,194.93 435.60,194.33 435.85,193.79 436.10,192.57 436.35,190.53 436.60,188.18 436.85,186.29 437.10,186.13 437.35,187.52 437.60,189.45 437.85,191.35 438.10,192.79 438.35,193.18 438.60,192.95 438.85,192.01 439.10,189.46 439.35,185.62 439.60,180.91 439.85,176.90 440.10,176.51 440.35,179.89 440.60,184.52 440.85,188.82 441.10,191.64 441.35,193.03 441.60,193.73 441.85,194.09 442.10,193.86 442.35,193.35 442.60,192.25 442.85,190.01 443.10,186.85 443.35,182.85 443.60,180.89 443.85,182.87 444.10,186.58 444.35,190.01 444.60,192.15 444.85,193.21 445.10,193.88 445.35,194.21 445.60,194.02 445.85,193.54 446.10,193.34 446.35,192.50 446.60,189.79 446.85,184.40 447.10,175.65 447.35,165.38 447.60,159.92 447.85,165.51 448.10,176.06 448.35,184.62 448.60,189.71 448.85,192.13 449.10,193.32 449.35,194.02 449.60,194.41 449.85,194.57 450.10,194.77 450.35,194.91 450.60,195.06 450.85,194.99 451.10,194.63 451.35,194.44 451.60,194.25 451.85,193.28 452.10,191.43 452.35,188.79 452.60,185.46 452.85,182.66 453.10,182.20 453.35,184.62 453.60,188.16 453.85,191.09 454.10,192.86 454.35,193.69 454.60,193.65 454.85,192.87 455.10,191.49 455.35,189.10 455.60,186.65 455.85,185.86 456.10,187.54 456.35,190.29 456.60,192.39 456.85,193.91 457.10,194.70 457.35,194.96 457.60,195.19 457.85,195.25 458.10,195.48 458.35,195.53 458.60,195.39 458.85,195.27 459.10,195.11 459.35,195.02 459.60,194.67 459.85,193.93 460.10,192.78 460.35,191.25 460.60,189.14 460.85,187.30 461.10,187.10 461.35,188.85 461.60,191.16 461.85,192.82 462.10,194.07 462.35,194.76 462.60,195.13 462.85,195.48 463.10,195.65 463.35,195.64 463.60,195.61 463.85,195.81 464.10,195.97 464.35,195.73 464.60,195.73 464.85,196.11 465.10,196.06 465.35,195.97 465.60,195.90 465.85,195.97 466.10,196.02 466.35,195.81 466.60,195.90 466.85,196.29 467.10,196.26 467.35,195.87 467.60,195.96 467.85,196.06 468.10,196.07 468.35,195.77 468.60,195.25 468.85,195.22 469.10,195.41 469.35,195.61 469.60,195.87 469.85,195.85 470.10,195.77 470.35,195.99 470.60,196.21 470.85,196.29 471.10,196.18 471.35,196.03 471.60,196.17 471.85,196.38 472.10,196.57 472.35,196.46 472.60,196.35 472.85,196.24 473.10,196.02 473.35,196.07 473.60,196.08 473.85,196.06 474.10,196.05 474.35,196.12 474.60,196.12 474.85,196.18 475.10,196.19 475.35,196.05 475.60,196.08 475.85,195.83 476.10,195.22 476.35,194.49 476.60,193.71 476.85,193.18 477.10,193.02 477.35,193.58 477.60,194.59 477.85,195.30 478.10,195.59 478.35,195.58 478.60,195.65 478.85,195.72 479.10,195.55 479.35,195.06 479.60,194.42 479.85,194.19 480.10,194.12 480.35,194.44 480.60,195.14 480.85,195.40 481.10,195.70 481.35,196.00 481.60,195.98 481.85,195.89 482.10,195.81 482.35,195.98 482.60,195.95 482.85,195.70 483.10,195.32 483.35,194.97 483.60,194.93 483.85,194.94 484.10,195.09 484.35,195.63 484.60,196.07 484.85,196.10 485.10,196.17 485.35,196.38 485.60,196.61 485.85,196.46 486.10,196.35 486.35,196.67 486.60,196.62 486.85,196.56 487.10,196.29 487.35,196.29 487.60,196.56 487.85,196.22 488.10,196.31 488.35,196.62 488.60,196.67 488.85,196.69 489.10,196.56 489.35,196.36 489.60,196.32 489.85,196.40 490.10,196.49 490.35,196.45 490.60,196.42 490.85,196.56 491.10,196.59 491.35,196.74 491.60,196.94 491.85,196.58 492.10,196.30 492.35,196.29 492.60,196.23 492.85,196.42 493.10,196.45 493.35,196.28 493.60,196.36 493.85,196.55 494.10,196.55 494.35,196.43 494.60,196.57 494.85,196.65 495.10,196.61 495.35,196.66 495.60,196.51 495.85,196.44 496.10,196.48 496.35,196.56 496.60,196.72 496.85,196.50 497.10,196.56 497.35,196.54 497.60,196.53 497.85,196.67 498.10,196.46 498.35,196.32 498.60,196.38 498.85,196.49 499.10,196.44 499.35,196.50 499.60,196.41 499.85,196.34 500.10,196.46 500.35,196.22 500.60,196.15 500.85,196.02 501.10,195.38 501.35,194.92 501.60,194.48 501.85,193.95 502.10,193.48 502.35,193.59 502.60,194.30 502.85,194.97 503.10,195.61 503.35,196.02 503.60,196.13 503.85,196.33 504.10,196.57 504.35,196.57 504.60,196.47 504.85,196.30 505.10,196.40 505.35,196.61 505.60,196.41 505.85,196.39 506.10,196.60 506.35,196.58 506.60,196.59 506.85,196.68 507.10,196.45 507.35,196.34 507.60,196.54 507.85,196.67 508.10,196.77 508.35,196.47 508.60,196.31 508.85,196.59 509.10,196.72 509.35,196.82 509.60,196.60 509.85,196.38 510.10,196.37 510.35,196.49 510.60,196.46 510.85,196.50 511.10,196.73 511.35,196.66 511.60,196.33 511.85,196.20 512.10,196.51 512.35,196.42 512.60,196.32 512.85,196.45 513.10,196.56 513.35,196.60 513.60,196.52 513.85,196.44 514.10,196.40 514.35,196.41 514.60,196.45 514.85,196.38 515.10,196.27 515.35,195.87 515.60,195.50 515.85,195.14 516.10,194.58 516.35,194.20 516.60,194.13 516.85,194.62 517.10,195.01 517.35,195.40 517.60,195.85 517.85,196.14 518.10,196.13 518.35,196.17 518.60,196.35 518.85,196.31 519.10,196.33 519.35,196.26 519.60,196.43 519.85,196.64 520.10,196.70 520.35,196.56 520.60,196.24 520.85,196.37 521.10,196.31 521.35,196.31 521.60,196.41 521.85,196.35 522.10,196.45 522.35,196.49 522.60,196.66 522.85,196.72 523.10,196.39 523.35,196.43 523.60,196.42 523.85,196.33 524.10,196.34 524.35,196.24 524.60,196.51 524.85,196.53 525.10,196.33 525.35,196.33 525.60,196.36 525.85,196.57 526.10,196.48 526.35,196.20 526.60,196.38 526.85,196.34 527.10,196.24 527.35,196.52 527.60,196.56 527.85,196.39 528.10,196.32 528.35,196.27 528.60,196.28 528.85,196.39 529.10,196.58 529.35,196.67 529.60,196.48 529.85,196.30 530.10,196.43 530.35,196.31 530.60,196.19 530.85,196.35 531.10,196.27 531.35,196.20 531.60,196.35 531.85,196.28 532.10,196.15 532.35,196.25 532.60,196.36 532.85,196.28 533.10,196.38 533.35,196.49 533.60,196.35 533.85,196.35 534.10,196.30 534.35,196.23 534.60,196.42 534.85,196.55 535.10,196.41 535.35,196.49 535.60,196.43 535.85,196.39 536.10,196.47 536.35,196.31 536.60,196.38 536.85,196.32 537.10,196.30 537.35,196.37 537.60,196.34 537.85,196.58 538.10,196.59 538.35,196.38 538.60,196.32 538.85,196.34 539.10,196.22"/>
<polyline fill="none" stroke="#d44848" stroke-width="1.1" stroke-linejoin="round"  points="316.60,89.75 316.85,89.93 317.10,90.21 317.35,90.45 317.60,90.63 317.85,90.70 318.10,90.73 318.35,90.81 318.60,90.95 318.85,91.07 319.10,91.22 319.35,91.26 319.60,91.43 319.85,91.72 320.10,91.98 320.35,92.12 320.60,92.04 320.85,92.13 321.10,92.18 321.35,92.21 321.60,92.27 321.85,92.48 322.10,92.71 322.35,92.66 322.60,92.72 322.85,92.93 323.10,93.06 323.35,93.12 323.60,93.14 323.85,93.17 324.10,93.32 324.35,93.50 324.60,93.54 324.85,93.52 325.10,93.71 325.35,93.77 325.60,93.82 325.85,93.94 326.10,93.98 326.35,94.11 326.60,94.15 326.85,94.15 327.10,94.11 327.35,94.07 327.60,94.21 327.85,94.38 328.10,94.47 328.35,94.56 328.60,94.55 328.85,94.48 329.10,94.56 329.35,94.59 329.60,94.58 329.85,94.56 330.10,94.65 330.35,94.66 330.60,94.65 330.85,94.64 331.10,94.69 331.35,94.72 331.60,94.71 331.85,94.69 332.10,94.62 332.35,94.78 332.60,94.76 332.85,94.69 333.10,94.69 333.35,94.52 333.60,94.52 333.85,94.62 334.10,94.47 334.35,94.37 334.60,94.19 334.85,93.75 335.10,93.31 335.35,92.88 335.60,92.90 335.85,93.12 336.10,93.39 336.35,93.77 336.60,93.70 336.85,93.52 337.10,93.59 337.35,93.59 337.60,93.48 337.85,93.47 338.10,93.30 338.35,93.03 338.60,92.73 338.85,92.61 339.10,92.49 339.35,92.24 339.60,92.02 339.85,91.58 340.10,91.26 340.35,90.92 340.60,90.30 340.85,89.50 341.10,88.64 341.35,87.73 341.60,86.58 341.85,85.14 342.10,83.44 342.35,81.32 342.60,78.49 342.85,74.74 343.10,69.80 343.35,62.94 343.60,52.82 343.85,38.06 344.10,15.31 344.35,-21.76 344.60,-83.13 344.85,-175.97 345.10,-264.34 345.35,-251.73 345.60,-155.36 345.85,-68.44 346.10,-12.84 346.35,20.87 346.60,41.78 346.85,55.21 347.10,64.46 347.35,70.98 347.60,75.67 347.85,79.25 348.10,81.99 348.35,84.13 348.60,85.71 348.85,86.99 349.10,88.06 349.35,89.08 349.60,89.95 349.85,90.59 350.10,91.10 350.35,91.39 350.60,91.91 350.85,92.39 351.10,92.63 351.35,92.90 351.60,93.18 351.85,93.43 352.10,93.50 352.35,93.71 352.60,93.92 352.85,93.98 353.10,94.24 353.35,94.44 353.60,94.44 353.85,94.39 354.10,94.51 354.35,94.74 354.60,94.80 354.85,94.78 355.10,94.81 355.35,94.87 355.60,94.99 355.85,95.17 356.10,95.26 356.35,95.23 356.60,95.23 356.85,95.34 357.10,95.34 357.35,95.34 357.60,95.52 357.85,95.57 358.10,95.53 358.35,95.52 358.60,95.50 358.85,95.45 359.10,95.46 359.35,95.64 359.60,95.78 359.85,95.79 360.10,95.72 360.35,95.66 360.60,95.59 360.85,95.58 361.10,95.65 361.35,95.60 361.60,95.60 361.85,95.56 362.10,95.38 362.35,95.33 362.60,95.27 362.85,95.16 363.10,95.20 363.35,95.09 363.60,94.78 363.85,94.44 364.10,93.69 364.35,91.75 364.60,87.68 364.85,80.48 365.10,71.63 365.35,68.13 365.60,73.29 365.85,79.36 366.10,81.33 366.35,80.14 366.60,80.86 366.85,85.25 367.10,89.88 367.35,92.88 367.60,94.32 367.85,94.98 368.10,95.26 368.35,95.38 368.60,95.57 368.85,95.67 369.10,95.68 369.35,95.80 369.60,95.76 369.85,95.38 370.10,94.79 370.35,93.68 370.60,91.76 370.85,89.95 371.10,89.74 371.35,91.29 371.60,93.30 371.85,94.81 372.10,95.77 372.35,96.11 372.60,96.29 372.85,96.42 373.10,96.40 373.35,96.57 373.60,96.68 373.85,96.71 374.10,96.63 374.35,96.68 374.60,96.76 374.85,96.93 375.10,97.01 375.35,96.92 375.60,96.90 375.85,96.90 376.10,96.93 376.35,97.04 376.60,97.14 376.85,97.14 377.10,97.14 377.35,97.07 377.60,97.17 377.85,97.13 378.10,96.95 378.35,97.01 378.60,97.04 378.85,96.97 379.10,97.07 379.35,97.04 379.60,97.02 379.85,97.00 380.10,97.01 380.35,97.10 380.60,96.96 380.85,96.84 381.10,96.77 381.35,96.74 381.60,96.79 381.85,96.62 382.10,96.51 382.35,96.38 382.60,96.06 382.85,95.64 383.10,94.96 383.35,93.38 383.60,90.48 383.85,87.04 384.10,85.02 384.35,85.80 384.60,87.32 384.85,87.67 385.10,86.44 385.35,86.16 385.60,88.58 385.85,91.62 386.10,93.92 386.35,95.37 386.60,96.05 386.85,96.34 387.10,96.49 387.35,96.61 387.60,96.71 387.85,96.84 388.10,96.94 388.35,96.90 388.60,96.78 388.85,96.87 389.10,97.10 389.35,97.04 389.60,96.92 389.85,96.94 390.10,97.14 390.35,97.17 390.60,97.12 390.85,97.22 391.10,97.34 391.35,97.35 391.60,97.30 391.85,97.29 392.10,97.40 392.35,97.50 392.60,97.41 392.85,97.27 393.10,97.23 393.35,97.35 393.60,97.35 393.85,97.37 394.10,97.43 394.35,97.40 394.60,97.42 394.85,97.43 395.10,97.35 395.35,97.30 395.60,97.48 395.85,97.43 396.10,97.27 396.35,97.40 396.60,97.42 396.85,97.31 397.10,97.24 397.35,97.32 397.60,97.45 397.85,97.50 398.10,97.44 398.35,97.42 398.60,97.35 398.85,97.30 399.10,97.31 399.35,97.31 399.60,97.38 399.85,97.43 400.10,97.32 400.35,97.33 400.60,97.35 400.85,97.21 401.10,97.21 401.35,97.17 401.60,97.16 401.85,97.24 402.10,97.20 402.35,97.19 402.60,97.14 402.85,97.07 403.10,96.95 403.35,96.87 403.60,96.81 403.85,96.65 404.10,96.49 404.35,96.18 404.60,95.45 404.85,94.18 405.10,92.31 405.35,89.59 405.60,86.28 405.85,83.61 406.10,83.37 406.35,85.69 406.60,88.96 406.85,91.86 407.10,93.93 407.35,95.27 407.60,96.06 407.85,96.49 408.10,96.70 408.35,96.82 408.60,96.96 408.85,97.06 409.10,97.10 409.35,97.16 409.60,97.15 409.85,97.10 410.10,97.19 410.35,97.29 410.60,97.26 410.85,97.23 411.10,97.38 411.35,97.37 411.60,97.23 411.85,97.29 412.10,97.24 412.35,97.24 412.60,97.41 412.85,97.46 413.10,97.39 413.35,97.37 413.60,97.34 413.85,97.36 414.10,97.35 414.35,97.27 414.60,97.28 414.85,97.35 415.10,97.36 415.35,97.35 415.60,97.21 415.85,97.24 416.10,97.48 416.35,97.48 416.60,97.33 416.85,97.20 417.10,97.23 417.35,97.22 417.60,97.24 417.85,97.26 418.10,97.27 418.35,97.37 418.60,97.19 418.85,97.13 419.10,97.19 419.35,97.09 419.60,97.09 419.85,97.15 420.10,97.23 420.35,97.15 420.60,97.14 420.85,97.33 421.10,97.30 421.35,97.20 421.60,97.15 421.85,97.04 422.10,97.06 422.35,97.13 422.60,97.13 422.85,97.23 423.10,97.21 423.35,97.07 423.60,97.09 423.85,96.96 424.10,96.77 424.35,96.79 424.60,96.77 424.85,96.78 425.10,96.74 425.35,96.73 425.60,96.75 425.85,96.59 426.10,96.34 426.35,96.14 426.60,95.93 426.85,95.37 427.10,94.47 427.35,92.94 427.60,90.17 427.85,86.23 428.10,81.80 428.35,78.77 428.60,79.51 428.85,82.65 429.10,85.25 429.35,85.62 429.60,83.79 429.85,81.48 430.10,81.55 430.35,84.72 430.60,88.46 430.85,91.39 431.10,92.66 431.35,92.08 431.60,89.96 431.85,87.15 432.10,85.90 432.35,86.38 432.60,86.83 432.85,86.78 433.10,87.33 433.35,89.04 433.60,91.07 433.85,92.93 434.10,94.24 434.35,95.05 434.60,95.20 434.85,95.05 435.10,94.71 435.35,93.85 435.60,92.17 435.85,89.46 436.10,85.97 436.35,82.56 436.60,81.10 436.85,82.58 437.10,85.95 437.35,89.39 437.60,92.07 437.85,93.91 438.10,94.81 438.35,95.29 438.60,95.40 438.85,95.26 439.10,95.20 439.35,94.99 439.60,94.44 439.85,93.24 440.10,91.16 440.35,88.17 440.60,84.53 440.85,81.50 441.10,81.11 441.35,83.78 441.60,87.25 441.85,90.23 442.10,92.61 442.35,93.84 442.60,94.12 442.85,93.80 443.10,92.76 443.35,90.67 443.60,87.53 443.85,84.69 444.10,84.21 444.35,86.20 444.60,88.48 444.85,89.09 445.10,87.27 445.35,83.18 445.60,77.57 445.85,72.55 446.10,71.98 446.35,76.73 446.60,82.91 446.85,88.06 447.10,91.51 447.35,93.30 447.60,94.06 447.85,94.04 448.10,93.09 448.35,91.28 448.60,89.04 448.85,87.28 449.10,87.21 449.35,88.96 449.60,91.33 449.85,93.34 450.10,94.80 450.35,95.49 450.60,95.63 450.85,95.41 451.10,94.58 451.35,93.16 451.60,91.59 451.85,90.33 452.10,90.21 452.35,91.34 452.60,92.94 452.85,94.43 453.10,95.47 453.35,96.21 453.60,96.57 453.85,96.64 454.10,96.68 454.35,96.75 454.60,96.73 454.85,96.69 455.10,96.65 455.35,96.35 455.60,96.02 455.85,95.66 456.10,94.77 456.35,93.48 456.60,92.14 456.85,91.13 457.10,91.13 457.35,92.01 457.60,93.21 457.85,94.33 458.10,95.33 458.35,96.04 458.60,96.34 458.85,96.70 459.10,96.95 459.35,96.86 459.60,96.91 459.85,97.08 460.10,97.02 460.35,97.06 460.60,97.03 460.85,96.94 461.10,96.97 461.35,96.99 461.60,97.13 461.85,97.13 462.10,97.02 462.35,97.06 462.60,97.14 462.85,97.18 463.10,97.22 463.35,97.20 463.60,97.08 463.85,97.09 464.10,97.17 464.35,97.14 464.60,97.14 464.85,97.28 465.10,97.21 465.35,97.07 465.60,97.12 465.85,96.97 466.10,96.63 466.35,96.20 466.60,95.60 466.85,94.72 467.10,93.53 467.35,92.44 467.60,92.07 467.85,92.58 468.10,93.49 468.35,94.62 468.60,95.68 468.85,96.40 469.10,96.79 469.35,96.94 469.60,97.04 469.85,97.04 470.10,97.11 470.35,97.20 470.60,97.24 470.85,97.22 471.10,97.16 471.35,97.14 471.60,97.06 471.85,97.06 472.10,96.90 472.35,96.52 472.60,95.88 472.85,94.98 473.10,93.88 473.35,92.88 473.60,92.54 473.85,93.02 474.10,94.04 474.35,95.08 474.60,96.01 474.85,96.66 475.10,97.02 475.35,97.26 475.60,97.34 475.85,97.34 476.10,97.40 476.35,97.42 476.60,97.44 476.85,97.54 477.10,97.57 477.35,97.48 477.60,97.33 477.85,97.30 478.10,97.25 478.35,97.09 478.60,96.70 478.85,96.08 479.10,95.48 479.35,94.86 479.60,94.56 479.85,94.95 480.10,95.66 480.35,96.28 480.60,96.78 480.85,97.09 481.10,97.35 481.35,97.54 481.60,97.60 481.85,97.61 482.10,97.63 482.35,97.67 482.60,97.71 482.85,97.82 483.10,97.84 483.35,97.68 483.60,97.61 483.85,97.63 484.10,97.65 484.35,97.78 484.60,97.86 484.85,97.80 485.10,97.80 485.35,97.80 485.60,97.71 485.85,97.69 486.10,97.73 486.35,97.89 486.60,97.87 486.85,97.87 487.10,98.03 487.35,97.95 487.60,97.88 487.85,97.87 488.10,97.87 488.35,97.95 488.60,97.96 488.85,97.99 489.10,98.06 489.35,98.03 489.60,97.99 489.85,97.97 490.10,97.98 490.35,97.92 490.60,97.92 490.85,98.00 491.10,97.92 491.35,98.03 491.60,98.03 491.85,97.86 492.10,97.93 492.35,97.87 492.60,97.81 492.85,97.83 493.10,97.82 493.35,97.90 493.60,97.97 493.85,98.04 494.10,98.07 494.35,98.08 494.60,98.06 494.85,97.97 495.10,98.00 495.35,98.00 495.60,97.90 495.85,98.01 496.10,98.09 496.35,98.02 496.60,98.01 496.85,98.05 497.10,97.93 497.35,97.87 497.60,97.88 497.85,97.89 498.10,97.92 498.35,97.98 498.60,98.05 498.85,97.92 499.10,97.88 499.35,97.85 499.60,97.83 499.85,97.90 500.10,97.84 500.35,97.56 500.60,97.29 500.85,97.09 501.10,96.73 501.35,96.42 501.60,96.19 501.85,96.30 502.10,96.68 502.35,97.06 502.60,97.45 502.85,97.71 503.10,97.80 503.35,97.84 503.60,97.85 503.85,97.77 504.10,97.88 504.35,97.97 504.60,97.85 504.85,97.81 505.10,97.91 505.35,98.04 505.60,98.11 505.85,98.06 506.10,97.91 506.35,97.86 506.60,97.99 506.85,98.02 507.10,98.01 507.35,97.98 507.60,98.05 507.85,98.15 508.10,98.05 508.35,97.91 508.60,98.03 508.85,98.06 509.10,98.01 509.35,98.15 509.60,98.03 509.85,97.93 510.10,97.97 510.35,97.98 510.60,98.02 510.85,98.10 511.10,98.12 511.35,98.00 511.60,98.04 511.85,98.02 512.10,97.94 512.35,98.08 512.60,98.05 512.85,97.90 513.10,97.94 513.35,97.91 513.60,97.79 513.85,97.91 514.10,97.98 514.35,97.89 514.60,97.91 514.85,97.88 515.10,97.84 515.35,97.90 515.60,98.10 515.85,98.12 516.10,98.02 516.35,97.88 516.60,97.81 516.85,97.78 517.10,97.73 517.35,97.62 517.60,97.33 517.85,97.04 518.10,96.71 518.35,96.48 518.60,96.61 518.85,96.87 519.10,97.08 519.35,97.42 519.60,97.64 519.85,97.79 520.10,97.96 520.35,97.99 520.60,97.96 520.85,97.96 521.10,98.00 521.35,97.90 521.60,97.88 521.85,97.93 522.10,97.84 522.35,97.90 522.60,97.95 522.85,97.98 523.10,98.07 523.35,97.90 523.60,97.84 523.85,98.08 524.10,98.13 524.35,98.10 524.60,98.06 524.85,97.90 525.10,97.83 525.35,97.95 525.60,98.07 525.85,97.99 526.10,97.92 526.35,97.97 526.60,97.89 526.85,97.86 527.10,98.05 527.35,98.19 527.60,98.09 527.85,98.07 528.10,98.04 528.35,97.89 528.60,97.80 528.85,97.89 529.10,98.00 529.35,98.07 529.60,98.11 529.85,97.98 530.10,97.84 530.35,97.89 530.60,97.92 530.85,97.73 531.10,97.47 531.35,97.33 531.60,97.29 531.85,97.05 532.10,96.98 532.35,97.17 532.60,97.43 532.85,97.63 533.10,97.84 533.35,97.92 533.60,97.85 533.85,97.87 534.10,97.78 534.35,97.77 534.60,97.97 534.85,98.04 535.10,97.94 535.35,97.94 535.60,97.88 535.85,97.84 536.10,97.99 536.35,98.05 536.60,97.97 536.85,97.99 537.10,98.14 537.35,98.06 537.60,98.00 537.85,97.93 538.10,97.78 538.35,97.91 538.60,98.02 538.85,98.00 539.10,97.96"/>
<polyline fill="none" stroke="#2222c8" stroke-width="1.15" stroke-linejoin="round"  points="316.60,127.85 316.85,128.07 317.10,128.52 317.35,128.42 317.60,127.91 317.85,128.26 318.10,128.75 318.35,128.73 318.60,128.74 318.85,129.12 319.10,129.18 319.35,128.95 319.60,128.70 319.85,128.59 320.10,128.86 320.35,129.01 320.60,129.24 320.85,129.16 321.10,129.45 321.35,129.44 321.60,129.11 321.85,129.38 322.10,129.29 322.35,129.39 322.60,129.77 322.85,129.67 323.10,129.94 323.35,130.05 323.60,129.81 323.85,129.67 324.10,129.38 324.35,129.48 324.60,129.76 324.85,129.84 325.10,130.07 325.35,129.74 325.60,129.42 325.85,129.53 326.10,129.99 326.35,130.22 326.60,129.91 326.85,129.83 327.10,130.09 327.35,130.23 327.60,130.12 327.85,129.85 328.10,130.03 328.35,130.47 328.60,130.37 328.85,130.54 329.10,130.41 329.35,130.18 329.60,130.35 329.85,130.46 330.10,130.29 330.35,130.20 330.60,130.13 330.85,130.23 331.10,130.46 331.35,130.31 331.60,130.46 331.85,130.16 332.10,129.76 332.35,130.30 332.60,130.24 332.85,129.63 333.10,129.92 333.35,130.27 333.60,129.77 333.85,129.78 334.10,129.77 334.35,129.36 334.60,129.47 334.85,129.58 335.10,129.34 335.35,129.26 335.60,129.16 335.85,129.12 336.10,129.18 336.35,129.18 336.60,128.98 336.85,128.48 337.10,128.18 337.35,128.23 337.60,128.58 337.85,128.61 338.10,128.06 338.35,127.90 338.60,127.62 338.85,127.43 339.10,127.35 339.35,127.06 339.60,126.96 339.85,126.46 340.10,126.06 340.35,125.52 340.60,124.98 340.85,124.83 341.10,124.95 341.35,124.16 341.60,122.58 341.85,121.20 342.10,120.05 342.35,118.27 342.60,115.82 342.85,113.47 343.10,109.90 343.35,105.61 343.60,100.37 343.85,93.27 344.10,85.89 344.35,79.96 344.60,77.50 344.85,80.09 345.10,86.20 345.35,93.24 345.60,99.87 345.85,105.32 346.10,109.80 346.35,113.10 346.60,115.71 346.85,118.31 347.10,120.18 347.35,121.12 347.60,121.86 347.85,123.03 348.10,124.16 348.35,124.39 348.60,124.64 348.85,125.51 349.10,126.31 349.35,126.58 349.60,126.89 349.85,127.37 350.10,128.03 350.35,128.49 350.60,128.35 350.85,128.51 351.10,129.00 351.35,129.45 351.60,129.32 351.85,129.48 352.10,129.62 352.35,129.56 352.60,129.67 352.85,129.67 353.10,129.87 353.35,130.02 353.60,130.32 353.85,130.71 354.10,130.65 354.35,130.39 354.60,130.64 354.85,130.55 355.10,130.13 355.35,130.68 355.60,131.20 355.85,131.31 356.10,131.21 356.35,130.86 356.60,130.85 356.85,131.21 357.10,131.21 357.35,131.02 357.60,130.95 357.85,130.91 358.10,131.34 358.35,131.67 358.60,131.35 358.85,131.11 359.10,131.25 359.35,131.57 359.60,131.49 359.85,131.40 360.10,131.24 360.35,131.03 360.60,131.47 360.85,131.84 361.10,131.54 361.35,131.23 361.60,131.56 361.85,131.60 362.10,131.34 362.35,131.47 362.60,131.57 362.85,131.63 363.10,131.69 363.35,131.34 363.60,131.08 363.85,130.98 364.10,130.39 364.35,129.53 364.60,128.85 364.85,127.27 365.10,125.76 365.35,125.24 365.60,125.43 365.85,126.82 366.10,128.48 366.35,129.87 366.60,130.57 366.85,130.80 367.10,131.08 367.35,131.58 367.60,131.86 367.85,131.40 368.10,131.20 368.35,131.25 368.60,131.29 368.85,131.35 369.10,131.46 369.35,130.48 369.60,129.34 369.85,128.91 370.10,128.53 370.35,129.20 370.60,130.21 370.85,130.98 371.10,131.65 371.35,131.55 371.60,131.69 371.85,131.94 372.10,132.00 372.35,132.16 372.60,132.14 372.85,132.18 373.10,132.17 373.35,132.10 373.60,131.77 373.85,131.89 374.10,132.18 374.35,132.44 374.60,131.97 374.85,131.58 375.10,132.13 375.35,131.96 375.60,131.74 375.85,132.35 376.10,132.65 376.35,132.13 376.60,132.14 376.85,132.51 377.10,132.41 377.35,132.27 377.60,132.19 377.85,131.97 378.10,131.83 378.35,132.07 378.60,132.14 378.85,132.29 379.10,132.16 379.35,131.36 379.60,131.31 379.85,131.74 380.10,131.82 380.35,131.73 380.60,131.47 380.85,131.67 381.10,131.64 381.35,131.45 381.60,131.45 381.85,131.05 382.10,131.27 382.35,130.94 382.60,130.40 382.85,130.71 383.10,130.47 383.35,130.08 383.60,129.56 383.85,128.74 384.10,128.59 384.35,128.35 384.60,128.03 384.85,128.29 385.10,128.74 385.35,129.59 385.60,130.28 385.85,130.48 386.10,130.47 386.35,130.71 386.60,130.59 386.85,130.44 387.10,130.71 387.35,130.64 387.60,130.73 387.85,130.78 388.10,130.62 388.35,131.06 388.60,131.35 388.85,131.25 389.10,131.13 389.35,131.09 389.60,131.23 389.85,131.27 390.10,131.54 390.35,131.24 390.60,130.82 390.85,130.80 391.10,130.08 391.35,129.80 391.60,130.38 391.85,130.69 392.10,130.53 392.35,130.57 392.60,130.85 392.85,130.53 393.10,130.51 393.35,130.84 393.60,130.62 393.85,130.09 394.10,130.22 394.35,130.31 394.60,129.94 394.85,129.94 395.10,129.84 395.35,129.91 395.60,130.04 395.85,129.97 396.10,129.83 396.35,129.38 396.60,129.15 396.85,129.34 397.10,129.20 397.35,129.46 397.60,129.39 397.85,128.67 398.10,128.82 398.35,128.95 398.60,128.64 398.85,128.37 399.10,128.35 399.35,128.44 399.60,128.40 399.85,128.10 400.10,127.93 400.35,128.01 400.60,127.95 400.85,127.14 401.10,126.73 401.35,127.02 401.60,127.02 401.85,127.06 402.10,127.15 402.35,127.10 402.60,126.79 402.85,126.56 403.10,126.81 403.35,126.67 403.60,126.38 403.85,126.71 404.10,126.62 404.35,125.78 404.60,125.43 404.85,125.16 405.10,124.39 405.35,124.08 405.60,124.12 405.85,124.36 406.10,125.08 406.35,125.73 406.60,125.92 406.85,126.05 407.10,126.12 407.35,126.00 407.60,125.84 407.85,125.86 408.10,125.73 408.35,125.46 408.60,125.81 408.85,125.95 409.10,125.67 409.35,125.64 409.60,125.61 409.85,125.59 410.10,125.55 410.35,125.35 410.60,125.46 410.85,125.43 411.10,125.40 411.35,125.13 411.60,124.71 411.85,125.18 412.10,125.27 412.35,124.88 412.60,124.87 412.85,124.70 413.10,124.55 413.35,124.25 413.60,124.05 413.85,124.23 414.10,124.30 414.35,124.47 414.60,124.13 414.85,124.16 415.10,124.11 415.35,123.38 415.60,122.99 415.85,123.54 416.10,123.87 416.35,123.40 416.60,123.20 416.85,123.04 417.10,123.33 417.35,123.43 417.60,123.43 417.85,123.33 418.10,122.51 418.35,122.62 418.60,122.89 418.85,122.61 419.10,122.87 419.35,122.79 419.60,122.63 419.85,122.60 420.10,122.17 420.35,122.15 420.60,122.06 420.85,122.08 421.10,122.24 421.35,121.92 421.60,121.75 421.85,121.72 422.10,121.45 422.35,121.39 422.60,121.29 422.85,121.12 423.10,120.87 423.35,120.66 423.60,120.78 423.85,120.50 424.10,120.22 424.35,120.13 424.60,120.19 424.85,119.81 425.10,119.41 425.35,119.42 425.60,118.99 425.85,117.93 426.10,117.19 426.35,116.61 426.60,114.96 426.85,112.81 427.10,110.62 427.35,108.98 427.60,109.15 427.85,110.63 428.10,112.38 428.35,113.72 428.60,114.50 428.85,114.69 429.10,114.35 429.35,113.89 429.60,113.47 429.85,113.01 430.10,113.30 430.35,114.12 430.60,114.68 430.85,115.01 431.10,115.08 431.35,114.95 431.60,115.07 431.85,115.21 432.10,114.72 432.35,114.53 432.60,114.39 432.85,114.28 433.10,113.85 433.35,112.92 433.60,112.75 433.85,113.06 434.10,113.60 434.35,114.43 434.60,114.84 434.85,114.90 435.10,115.22 435.35,115.13 435.60,115.44 435.85,115.94 436.10,116.01 436.35,115.93 436.60,116.10 436.85,116.51 437.10,116.49 437.35,117.07 437.60,117.52 437.85,117.32 438.10,117.50 438.35,117.95 438.60,118.37 438.85,118.55 439.10,118.71 439.35,118.86 439.60,118.40 439.85,118.02 440.10,117.97 440.35,117.86 440.60,117.93 440.85,117.66 441.10,117.21 441.35,117.44 441.60,118.25 441.85,118.51 442.10,118.50 442.35,118.75 442.60,118.53 442.85,118.67 443.10,119.07 443.35,118.98 443.60,118.67 443.85,118.31 444.10,118.16 444.35,117.93 444.60,117.21 444.85,115.66 445.10,113.66 445.35,111.31 445.60,109.61 445.85,110.55 446.10,113.57 446.35,115.97 446.60,117.45 446.85,118.61 447.10,118.67 447.35,118.46 447.60,118.29 447.85,117.20 448.10,115.21 448.35,113.43 448.60,113.66 448.85,115.64 449.10,117.69 449.35,119.19 449.60,119.75 449.85,120.49 450.10,120.54 450.35,120.32 450.60,120.97 450.85,120.96 451.10,121.08 451.35,121.65 451.60,121.50 451.85,121.41 452.10,121.41 452.35,121.42 452.60,121.59 452.85,121.49 453.10,121.67 453.35,121.67 453.60,121.62 453.85,121.60 454.10,121.17 454.35,121.24 454.60,121.66 454.85,121.45 455.10,121.64 455.35,121.87 455.60,121.61 455.85,121.37 456.10,121.44 456.35,121.98 456.60,122.29 456.85,122.59 457.10,122.54 457.35,122.99 457.60,123.37 457.85,122.92 458.10,123.12 458.35,123.53 458.60,123.97 458.85,124.12 459.10,124.25 459.35,124.41 459.60,124.91 459.85,125.35 460.10,125.43 460.35,125.22 460.60,125.05 460.85,125.12 461.10,125.17 461.35,125.52 461.60,125.20 461.85,124.94 462.10,125.04 462.35,124.95 462.60,125.00 462.85,125.07 463.10,124.91 463.35,125.07 463.60,125.39 463.85,125.11 464.10,124.88 464.35,125.07 464.60,125.09 464.85,124.92 465.10,125.06 465.35,125.31 465.60,125.20 465.85,124.80 466.10,124.62 466.35,124.29 466.60,123.04 466.85,122.04 467.10,122.27 467.35,122.79 467.60,123.54 467.85,124.47 468.10,124.79 468.35,125.05 468.60,125.06 468.85,125.10 469.10,125.09 469.35,125.63 469.60,126.30 469.85,126.15 470.10,125.98 470.35,126.02 470.60,126.26 470.85,126.32 471.10,126.29 471.35,125.92 471.60,125.67 471.85,125.41 472.10,124.65 472.35,124.14 472.60,124.45 472.85,125.35 473.10,125.67 473.35,126.32 473.60,127.18 473.85,127.02 474.10,126.82 474.35,126.98 474.60,127.33 474.85,127.37 475.10,127.06 475.35,127.20 475.60,127.04 475.85,127.01 476.10,127.58 476.35,127.60 476.60,127.51 476.85,127.47 477.10,127.30 477.35,126.95 477.60,126.28 477.85,125.88 478.10,125.98 478.35,126.56 478.60,127.28 478.85,127.46 479.10,127.25 479.35,127.15 479.60,127.30 479.85,127.70 480.10,127.81 480.35,127.57 480.60,127.35 480.85,127.40 481.10,127.40 481.35,127.06 481.60,127.05 481.85,127.60 482.10,127.85 482.35,128.07 482.60,128.47 482.85,128.27 483.10,128.27 483.35,128.29 483.60,128.04 483.85,128.06 484.10,128.10 484.35,128.28 484.60,128.50 484.85,128.55 485.10,128.73 485.35,128.11 485.60,128.04 485.85,128.30 486.10,128.30 486.35,128.49 486.60,128.51 486.85,128.93 487.10,128.63 487.35,128.45 487.60,128.77 487.85,128.42 488.10,128.58 488.35,128.94 488.60,128.76 488.85,128.65 489.10,129.34 489.35,129.42 489.60,128.56 489.85,128.49 490.10,128.77 490.35,128.89 490.60,128.97 490.85,128.87 491.10,129.01 491.35,129.13 491.60,128.82 491.85,128.79 492.10,128.99 492.35,129.31 492.60,129.48 492.85,129.30 493.10,129.24 493.35,129.37 493.60,129.75 493.85,129.63 494.10,129.37 494.35,129.63 494.60,129.41 494.85,129.34 495.10,129.56 495.35,129.45 495.60,129.54 495.85,129.82 496.10,129.93 496.35,129.73 496.60,129.58 496.85,130.05 497.10,129.83 497.35,129.47 497.60,129.83 497.85,129.84 498.10,129.81 498.35,129.82 498.60,129.85 498.85,130.06 499.10,129.90 499.35,129.72 499.60,129.75 499.85,129.64 500.10,129.61 500.35,129.40 500.60,129.36 500.85,129.58 501.10,129.42 501.35,129.08 501.60,128.58 501.85,128.88 502.10,129.28 502.35,129.31 502.60,129.98 502.85,129.92 503.10,129.81 503.35,130.08 503.60,129.93 503.85,129.74 504.10,129.85 504.35,129.94 504.60,130.06 504.85,130.38 505.10,129.96 505.35,129.69 505.60,129.90 505.85,129.81 506.10,129.69 506.35,129.94 506.60,130.13 506.85,129.85 507.10,129.81 507.35,130.22 507.60,130.13 507.85,129.90 508.10,130.42 508.35,130.84 508.60,130.30 508.85,129.85 509.10,130.23 509.35,130.28 509.60,130.20 509.85,130.35 510.10,130.52 510.35,130.16 510.60,129.69 510.85,129.93 511.10,130.51 511.35,130.71 511.60,130.24 511.85,130.37 512.10,130.81 512.35,130.69 512.60,130.52 512.85,130.66 513.10,130.94 513.35,130.90 513.60,130.80 513.85,130.77 514.10,130.62 514.35,130.48 514.60,130.61 514.85,130.73 515.10,130.65 515.35,130.88 515.60,131.03 515.85,131.03 516.10,130.68 516.35,130.63 516.60,130.82 516.85,130.59 517.10,130.56 517.35,130.93 517.60,131.24 517.85,130.91 518.10,130.57 518.35,130.71 518.60,130.85 518.85,131.15 519.10,130.99 519.35,130.38 519.60,130.61 519.85,130.95 520.10,131.03 520.35,131.17 520.60,131.52 520.85,131.34 521.10,130.88 521.35,130.64 521.60,130.79 521.85,131.26 522.10,131.18 522.35,131.25 522.60,131.31 522.85,131.38 523.10,131.45 523.35,131.00 523.60,130.84 523.85,130.77 524.10,130.58 524.35,130.91 524.60,131.38 524.85,131.69 525.10,131.54 525.35,131.16 525.60,130.98 525.85,131.21 526.10,131.48 526.35,131.21 526.60,131.28 526.85,131.49 527.10,131.05 527.35,131.09 527.60,131.46 527.85,131.27 528.10,131.18 528.35,131.57 528.60,131.92 528.85,131.94 529.10,131.48 529.35,131.05 529.60,131.43 529.85,131.34 530.10,131.06 530.35,130.97 530.60,131.43 530.85,131.95 531.10,131.71 531.35,131.57 531.60,131.43 531.85,131.33 532.10,131.53 532.35,131.48 532.60,131.60 532.85,131.65 533.10,131.29 533.35,131.62 533.60,131.76 533.85,131.64 534.10,131.60 534.35,131.11 534.60,131.29 534.85,131.46 535.10,131.57 535.35,131.54 535.60,131.03 535.85,131.37 536.10,131.79 536.35,131.76 536.60,131.49 536.85,131.63 537.10,131.60 537.35,131.37 537.60,131.50 537.85,131.53 538.10,131.83 538.35,131.79 538.60,131.75 538.85,132.00 539.10,131.61"/>
</g>
<line x1="316.60" y1="13.80" x2="539.30" y2="13.80" stroke="#b4b4b4" stroke-width="1"/>
<line x1="539.30" y1="13.80" x2="539.30" y2="198.30" stroke="#a8a8a8" stroke-width="1"/>
<line x1="316.60" y1="13.80" x2="316.60" y2="198.30" stroke="#7a7a7a" stroke-width="1"/>
<line x1="316.60" y1="198.30" x2="539.30" y2="198.30" stroke="#7a7a7a" stroke-width="1"/>
<line x1="316.60" y1="198.30" x2="316.60" y2="202.30" stroke="#7a7a7a" stroke-width="1"/>
<line x1="332.50" y1="198.30" x2="332.50" y2="200.30" stroke="#7a7a7a" stroke-width="1"/>
<line x1="348.40" y1="198.30" x2="348.40" y2="202.30" stroke="#7a7a7a" stroke-width="1"/>
<line x1="364.30" y1="198.30" x2="364.30" y2="200.30" stroke="#7a7a7a" stroke-width="1"/>
<line x1="380.20" y1="198.30" x2="380.20" y2="202.30" stroke="#7a7a7a" stroke-width="1"/>
<line x1="396.10" y1="198.30" x2="396.10" y2="200.30" stroke="#7a7a7a" stroke-width="1"/>
<line x1="412.00" y1="198.30" x2="412.00" y2="202.30" stroke="#7a7a7a" stroke-width="1"/>
<line x1="427.90" y1="198.30" x2="427.90" y2="200.30" stroke="#7a7a7a" stroke-width="1"/>
<line x1="443.80" y1="198.30" x2="443.80" y2="202.30" stroke="#7a7a7a" stroke-width="1"/>
<line x1="459.70" y1="198.30" x2="459.70" y2="200.30" stroke="#7a7a7a" stroke-width="1"/>
<line x1="475.60" y1="198.30" x2="475.60" y2="202.30" stroke="#7a7a7a" stroke-width="1"/>
<line x1="491.50" y1="198.30" x2="491.50" y2="200.30" stroke="#7a7a7a" stroke-width="1"/>
<line x1="507.40" y1="198.30" x2="507.40" y2="202.30" stroke="#7a7a7a" stroke-width="1"/>
<line x1="523.30" y1="198.30" x2="523.30" y2="200.30" stroke="#7a7a7a" stroke-width="1"/>
<line x1="539.20" y1="198.30" x2="539.20" y2="202.30" stroke="#7a7a7a" stroke-width="1"/>
<line x1="313.10" y1="25.20" x2="316.60" y2="25.20" stroke="#7a7a7a" stroke-width="1"/>
<line x1="313.10" y1="83.00" x2="316.60" y2="83.00" stroke="#7a7a7a" stroke-width="1"/>
<line x1="313.10" y1="140.40" x2="316.60" y2="140.40" stroke="#7a7a7a" stroke-width="1"/>
<line x1="313.10" y1="198.00" x2="316.60" y2="198.00" stroke="#7a7a7a" stroke-width="1"/>
<text x="44.20" y="20.90" font-family="'Liberation Sans', Arial, sans-serif" font-size="8.00" fill="#1e1e1e" text-anchor="middle" stroke="#1e1e1e" stroke-width="0.15" >(200)</text>
<text x="117.30" y="66.90" font-family="'Liberation Sans', Arial, sans-serif" font-size="8.00" fill="#1e1e1e" text-anchor="middle" stroke="#1e1e1e" stroke-width="0.15" >(400)</text>
<text x="41.00" y="138.10" font-family="'Liberation Sans', Arial, sans-serif" font-size="8.00" fill="#1e1e1e" text-anchor="middle" stroke="#1e1e1e" stroke-width="0.15" >(200)</text>
<text x="115.70" y="161.00" font-family="'Liberation Sans', Arial, sans-serif" font-size="8.00" fill="#1e1e1e" text-anchor="middle" stroke="#1e1e1e" stroke-width="0.15" >(400)</text>
<text x="250.80" y="89.20" font-family="'Liberation Sans', Arial, sans-serif" font-size="9.50" fill="#1e1e1e" text-anchor="end" stroke="#1e1e1e" stroke-width="0.15" >Al-FER</text>
<text x="254.90" y="121.40" font-family="'Liberation Sans', Arial, sans-serif" font-size="9.50" fill="#1e1e1e" text-anchor="end" stroke="#1e1e1e" stroke-width="0.15" textLength="56.4" lengthAdjust="spacingAndGlyphs">Al-ITQ-6 (x5)</text>
<text x="254.60" y="147.90" font-family="'Liberation Sans', Arial, sans-serif" font-size="9.50" fill="#1e1e1e" text-anchor="end" stroke="#1e1e1e" stroke-width="0.15" textLength="50.6" lengthAdjust="spacingAndGlyphs">swelling (x5)</text>
<text x="254.00" y="177.20" font-family="'Liberation Sans', Arial, sans-serif" font-size="9.50" fill="#1e1e1e" text-anchor="end" stroke="#1e1e1e" stroke-width="0.15" textLength="51.5" lengthAdjust="spacingAndGlyphs">Al-PREFER</text>
<text x="27.20" y="211.20" font-family="'Liberation Sans', Arial, sans-serif" font-size="8.60" fill="#333333" text-anchor="middle" stroke="#333333" stroke-width="0.05" >5</text>
<text x="60.00" y="211.20" font-family="'Liberation Sans', Arial, sans-serif" font-size="8.60" fill="#333333" text-anchor="middle" stroke="#333333" stroke-width="0.05" >10</text>
<text x="92.80" y="211.20" font-family="'Liberation Sans', Arial, sans-serif" font-size="8.60" fill="#333333" text-anchor="middle" stroke="#333333" stroke-width="0.05" >15</text>
<text x="125.60" y="211.20" font-family="'Liberation Sans', Arial, sans-serif" font-size="8.60" fill="#333333" text-anchor="middle" stroke="#333333" stroke-width="0.05" >20</text>
<text x="158.40" y="211.20" font-family="'Liberation Sans', Arial, sans-serif" font-size="8.60" fill="#333333" text-anchor="middle" stroke="#333333" stroke-width="0.05" >25</text>
<text x="191.20" y="211.20" font-family="'Liberation Sans', Arial, sans-serif" font-size="8.60" fill="#333333" text-anchor="middle" stroke="#333333" stroke-width="0.05" >30</text>
<text x="224.00" y="211.20" font-family="'Liberation Sans', Arial, sans-serif" font-size="8.60" fill="#333333" text-anchor="middle" stroke="#333333" stroke-width="0.05" >35</text>
<text x="256.80" y="211.20" font-family="'Liberation Sans', Arial, sans-serif" font-size="8.60" fill="#333333" text-anchor="middle" stroke="#333333" stroke-width="0.05" >40</text>
<text x="141.60" y="227.80" font-family="'Liberation Sans', Arial, sans-serif" font-size="9.60" fill="#1e1e1e" text-anchor="middle" stroke="#1e1e1e" stroke-width="0.15" >2 theta / °</text>
<text x="132.60" y="243.20" font-family="'Liberation Serif', 'Times New Roman', serif" font-size="11.00" fill="#111" text-anchor="middle" stroke="#111" stroke-width="0.10" >(<tspan font-weight="bold">a</tspan>)</text>
<text x="10.60" y="101.90" font-family="'Liberation Sans', Arial, sans-serif" font-size="9.80" fill="#2a2a2a" text-anchor="middle" transform="rotate(-90 10.6 101.6)">Intensity / a.u.</text>
<text x="332.40" y="23.30" font-family="'Liberation Sans', Arial, sans-serif" font-size="8.00" fill="#1e1e1e" text-anchor="middle" stroke="#1e1e1e" stroke-width="0.15" >(200)</text>
<text x="406.00" y="70.30" font-family="'Liberation Sans', Arial, sans-serif" font-size="8.00" fill="#1e1e1e" text-anchor="middle" stroke="#1e1e1e" stroke-width="0.15" >(400)</text>
<text x="329.00" y="116.50" font-family="'Liberation Sans', Arial, sans-serif" font-size="8.00" fill="#1e1e1e" text-anchor="middle" stroke="#1e1e1e" stroke-width="0.15" >(200)</text>
<text x="396.80" y="141.90" font-family="'Liberation Sans', Arial, sans-serif" font-size="8.00" fill="#1e1e1e" text-anchor="middle" stroke="#1e1e1e" stroke-width="0.15" >(400)</text>
<text x="537.40" y="92.40" font-family="'Liberation Sans', Arial, sans-serif" font-size="9.50" fill="#1e1e1e" text-anchor="end" stroke="#1e1e1e" stroke-width="0.15" >Ti-FER</text>
<text x="537.40" y="123.40" font-family="'Liberation Sans', Arial, sans-serif" font-size="9.50" fill="#1e1e1e" text-anchor="end" stroke="#1e1e1e" stroke-width="0.15" >Ti-ITQ-6 (5x)</text>
<text x="537.40" y="152.60" font-family="'Liberation Sans', Arial, sans-serif" font-size="9.50" fill="#1e1e1e" text-anchor="end" stroke="#1e1e1e" stroke-width="0.15" >swelling (5x)</text>
<text x="536.40" y="190.40" font-family="'Liberation Sans', Arial, sans-serif" font-size="9.50" fill="#1e1e1e" text-anchor="end" stroke="#1e1e1e" stroke-width="0.15" >Ti-PREFER</text>
<text x="316.60" y="210.60" font-family="'Liberation Sans', Arial, sans-serif" font-size="8.30" fill="#333333" text-anchor="middle" stroke="#333333" stroke-width="0.05" >5</text>
<text x="348.40" y="210.60" font-family="'Liberation Sans', Arial, sans-serif" font-size="8.30" fill="#333333" text-anchor="middle" stroke="#333333" stroke-width="0.05" >10</text>
<text x="380.20" y="210.60" font-family="'Liberation Sans', Arial, sans-serif" font-size="8.30" fill="#333333" text-anchor="middle" stroke="#333333" stroke-width="0.05" >15</text>
<text x="412.00" y="210.60" font-family="'Liberation Sans', Arial, sans-serif" font-size="8.30" fill="#333333" text-anchor="middle" stroke="#333333" stroke-width="0.05" >20</text>
<text x="443.80" y="210.60" font-family="'Liberation Sans', Arial, sans-serif" font-size="8.30" fill="#333333" text-anchor="middle" stroke="#333333" stroke-width="0.05" >25</text>
<text x="475.60" y="210.60" font-family="'Liberation Sans', Arial, sans-serif" font-size="8.30" fill="#333333" text-anchor="middle" stroke="#333333" stroke-width="0.05" >30</text>
<text x="507.40" y="210.60" font-family="'Liberation Sans', Arial, sans-serif" font-size="8.30" fill="#333333" text-anchor="middle" stroke="#333333" stroke-width="0.05" >35</text>
<text x="539.20" y="210.60" font-family="'Liberation Sans', Arial, sans-serif" font-size="8.30" fill="#333333" text-anchor="middle" stroke="#333333" stroke-width="0.05" >40</text>
<text x="427.70" y="227.40" font-family="'Liberation Sans', Arial, sans-serif" font-size="9.20" fill="#1e1e1e" text-anchor="middle" stroke="#1e1e1e" stroke-width="0.15" >2 theta / °</text>
<text x="417.50" y="243.20" font-family="'Liberation Serif', 'Times New Roman', serif" font-size="11.00" fill="#111" text-anchor="middle" stroke="#111" stroke-width="0.10" >(<tspan font-weight="bold">b</tspan>)</text>
<text x="299.40" y="103.00" font-family="'Liberation Sans', Arial, sans-serif" font-size="9.50" fill="#2a2a2a" text-anchor="middle" transform="rotate(-90 299.4 103)">Intensity / a.u.</text>
</svg>
</body></html>
